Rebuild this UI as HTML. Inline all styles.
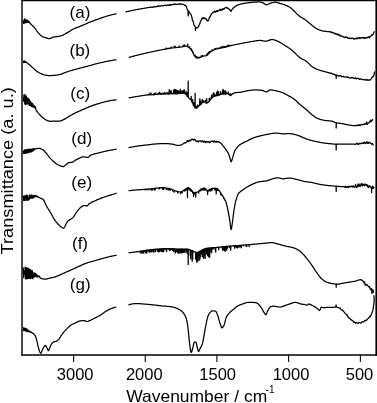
<!DOCTYPE html>
<html><head><meta charset="utf-8"><style>
html,body{margin:0;padding:0;background:#fff;}
svg{display:block;}
</style></head><body>
<svg width="377" height="403" viewBox="0 0 377 403">
<rect width="377" height="403" fill="#fff"/>
<g fill="none" stroke="#000" stroke-width="1.25" stroke-linejoin="round">
<path d="M23.3,20.9 L23.6,23.4 L23.9,20.0 L24.2,23.1 L24.5,19.0 L24.8,23.0 L25.1,19.0 L25.4,21.3 L25.7,20.7 L26.0,22.6 L26.3,20.1 L26.6,22.5 L26.9,20.0 L27.2,22.3 L27.5,20.4 L27.8,22.2 L28.1,20.8 L28.4,22.4 L28.7,21.0 L29.0,22.5 L29.3,21.9 L30.0,23.3 L30.5,23.8 L31.0,24.3 L31.5,24.8 L32.0,25.2 L32.5,25.7 L33.0,26.2 L33.5,26.7 L34.0,27.2 L34.5,27.8 L35.0,28.4 L35.5,29.0 L36.0,29.7 L36.5,30.5 L37.0,31.2 L37.5,31.9 L38.0,32.5 L38.5,33.1 L39.0,33.6 L39.5,34.1 L40.0,34.7 L40.5,35.1 L41.0,35.6 L41.5,36.0 L42.0,36.3 L42.5,36.6 L43.0,36.8 L43.5,37.0 L44.0,37.2 L44.5,37.3 L45.0,37.5 L45.5,37.6 L46.0,37.8 L46.5,37.9 L47.0,38.1 L47.5,38.3 L48.0,38.5 L48.5,38.6 L49.0,38.7 L49.5,38.7 L50.0,38.6 L50.5,38.4 L51.0,38.1 L51.5,37.8 L52.0,37.6 L52.5,37.3 L53.0,37.1 L53.5,37.0 L54.0,37.0 L54.5,36.9 L55.0,36.8 L55.5,36.8 L56.0,36.7 L56.5,36.7 L57.0,36.6 L57.5,36.5 L58.0,36.5 L58.5,36.4 L59.0,36.3 L59.5,36.2 L60.0,36.1 L60.5,36.0 L61.0,35.8 L61.5,35.7 L62.0,35.5 L62.5,35.3 L63.0,35.1 L63.5,34.8 L64.0,34.5 L64.5,34.3 L65.0,34.0 L65.5,33.7 L66.0,33.4 L66.5,33.1 L67.0,32.9 L67.5,32.6 L68.0,32.3 L68.5,31.9 L69.0,31.6 L69.5,31.3 L70.0,31.0 L70.5,30.6 L71.0,30.3 L71.5,30.0 L72.0,29.7 L72.5,29.5 L73.0,29.2 L73.5,29.0 L74.0,28.7 L74.5,28.5 L75.0,28.3 L75.5,28.1 L76.0,27.9 L76.5,27.7 L77.0,27.5 L77.5,27.3 L78.0,27.2 L78.5,27.0 L79.0,26.8 L79.5,26.6 L80.0,26.4 L80.5,26.2 L81.0,26.0 L81.5,25.8 L82.0,25.6 L82.5,25.4 L83.0,25.1 L83.5,24.9 L84.0,24.7 L84.5,24.5 L85.0,24.2 L85.5,24.0 L86.0,23.8 L86.5,23.6 L87.0,23.3 L87.5,23.1 L88.0,22.9 L88.5,22.7 L89.0,22.5 L89.5,22.3 L90.0,22.1 L90.5,21.9 L91.0,21.7 L91.5,21.5 L92.0,21.3 L92.5,21.1 L93.0,21.0 L93.5,20.8 L94.0,20.6 L94.5,20.4 L95.0,20.2 L95.5,20.1 L96.0,19.9 L96.5,19.7 L97.0,19.5 L97.5,19.3 L98.0,19.2 L98.5,19.0 L99.0,18.8 L99.5,18.6 L100.0,18.5 L100.5,18.3 L101.0,18.1 L101.5,17.9 L102.0,17.7 L102.5,17.6 L103.0,17.4 L103.5,17.2 L104.0,17.0 L104.5,16.8 L105.0,16.7 L105.5,16.5 L106.0,16.3 L106.5,16.2 L107.0,16.0 L107.5,15.9 L108.0,15.8 L108.5,15.6 L109.0,15.5 L109.5,15.4 L110.0,15.2 L110.5,15.1 L111.0,15.0 L111.5,14.9 L112.0,14.7 L112.5,14.6 L113.0,14.5 L113.5,14.4 L114.0,14.3 L114.5,14.2 L115.0,14.1 L115.5,14.0 L116.0,13.9 L116.5,13.8 L116.6,13.8"/>
<path d="M125.4,12.0 L125.9,11.9 L126.4,11.8 L126.9,11.7 L127.4,11.5 L127.9,11.4 L128.4,11.3 L128.9,11.2 L129.4,11.1 L129.9,11.0 L130.4,10.9 L130.9,10.8 L131.4,10.7 L131.9,10.5 L132.4,10.4 L132.9,10.3 L133.4,10.2 L133.9,10.1 L134.4,10.0 L134.9,9.9 L135.4,9.8 L135.9,9.7 L136.4,9.6 L136.9,9.5 L137.4,9.4 L137.9,9.3 L138.4,9.3 L138.9,9.2 L139.4,9.1 L139.9,9.0 L140.4,8.9 L140.9,8.8 L141.4,8.7 L141.9,8.6 L142.4,8.5 L142.9,8.5 L143.4,8.4 L143.9,8.3 L144.4,8.2 L144.9,8.1 L145.4,8.0 L145.9,8.0 L146.4,7.9 L146.9,7.8 L147.4,7.7 L147.9,7.7 L148.4,7.6 L148.9,7.5 L149.4,7.4 L149.9,7.4 L150.4,6.9 L150.9,7.1 L151.4,7.3 L151.9,7.3 L152.4,7.4 L152.9,6.9 L153.4,7.2 L153.9,6.9 L154.4,6.5 L154.9,6.7 L155.4,6.9 L155.9,6.8 L156.4,6.5 L156.9,6.5 L157.4,5.9 L157.9,6.0 L158.4,6.5 L158.9,6.1 L159.4,5.8 L159.9,6.1 L160.4,6.1 L160.9,6.1 L161.4,5.7 L161.9,5.7 L162.4,5.7 L162.9,5.9 L163.4,5.6 L163.9,5.5 L164.4,5.5 L164.9,5.0 L165.4,5.0 L165.9,5.5 L166.4,5.7 L166.9,5.3 L167.4,5.1 L167.9,4.8 L168.4,5.1 L168.9,5.4 L169.4,5.2 L169.9,4.9 L170.4,5.1 L170.9,4.5 L171.4,4.7 L171.9,5.0 L172.4,4.6 L172.9,4.4 L173.4,4.2 L173.9,4.4 L174.4,4.7 L174.9,3.8 L175.4,4.4 L175.9,4.4 L176.4,4.5 L176.9,4.3 L177.4,4.4 L177.9,4.1 L178.4,4.2 L178.9,4.0 L179.4,3.7 L179.9,4.5 L180.4,4.2 L180.9,3.9 L181.4,4.2 L181.9,4.3 L182.4,4.2 L182.9,4.2 L183.4,4.5 L183.9,4.8 L184.4,5.3 L184.9,5.5 L185.4,5.2 L185.9,6.2 L186.4,6.9 L186.9,8.6 L187.4,10.0 L187.9,10.7 L188.3,15.9 L188.4,10.7 L188.4,11.5 L188.9,12.1 L189.4,11.6 L189.9,13.5 L190.4,14.0 L190.9,14.1 L191.4,15.5 L191.9,17.2 L192.4,20.3 L192.9,20.8 L193.4,22.2 L193.9,24.9 L194.4,25.8 L194.9,26.3 L195.4,27.0 L195.5,30.5 L195.6,27.7 L195.9,28.1 L196.4,27.6 L196.9,27.8 L197.4,27.9 L197.9,27.3 L198.4,26.8 L198.9,25.6 L199.4,24.5 L199.9,23.6 L200.4,21.7 L200.9,20.9 L201.4,19.8 L201.9,18.6 L202.4,18.0 L202.9,18.8 L203.4,18.0 L203.9,17.5 L204.4,18.2 L204.9,18.9 L205.4,18.4 L205.9,18.9 L206.4,19.5 L206.9,20.6 L207.4,20.1 L207.9,21.0 L208.4,20.5 L208.9,19.2 L209.4,17.4 L209.9,17.1 L210.4,16.0 L210.9,14.9 L211.4,13.8 L211.9,13.8 L212.4,12.9 L212.9,12.7 L213.4,12.0 L213.9,12.2 L214.4,11.2 L214.9,11.4 L215.4,12.1 L215.9,11.8 L216.4,10.9 L216.9,11.5 L217.4,10.6 L217.9,11.3 L218.4,10.9 L218.9,10.3 L219.4,9.9 L219.9,9.5 L220.4,10.5 L220.9,9.2 L221.4,10.1 L221.9,10.2 L222.4,9.4 L222.9,8.6 L223.4,9.3 L223.9,9.2 L224.4,8.5 L224.9,8.1 L225.4,7.7 L225.9,7.6 L226.4,7.4 L226.9,8.2 L227.4,8.1 L227.9,8.0 L228.4,8.2 L228.9,9.3 L229.4,9.3 L229.9,10.2 L230.4,10.4 L230.9,11.3 L231.4,11.1 L231.9,9.3 L232.4,9.2 L232.9,8.5 L233.4,7.9 L233.9,7.5 L234.4,7.1 L234.9,6.7 L235.4,6.3 L235.9,5.9 L236.4,5.6 L236.9,5.4 L237.4,5.2 L237.9,5.0 L238.4,4.8 L238.9,4.6 L239.4,4.4 L239.9,4.3 L240.4,4.1 L240.9,4.0 L241.4,3.9 L241.9,3.8 L242.4,3.7 L242.9,3.5 L243.4,3.5 L243.9,3.4 L244.4,3.3 L244.9,3.2 L245.4,3.1 L245.9,3.0 L246.4,3.0 L246.9,2.9 L247.4,2.8 L247.9,2.8 L248.4,2.7 L248.9,2.7 L249.4,2.6 L249.9,2.6 L250.4,2.5 L250.9,2.5 L251.4,2.4 L251.9,2.4 L252.4,2.3 L252.9,2.3 L253.4,2.2 L253.9,2.2 L254.4,2.2 L254.9,2.1 L255.4,2.1 L255.9,2.0 L256.4,2.0 L256.9,2.0 L257.4,2.0 L257.9,1.9 L258.4,1.9 L258.9,1.9 L259.4,1.9 L259.9,1.9 L260.4,2.0 L260.9,2.1 L261.4,2.3 L261.9,2.5 L262.4,2.7 L262.9,2.9 L263.4,3.1 L263.9,3.4 L264.4,3.7 L264.9,4.1 L265.4,4.5 L265.9,4.8 L266.4,4.8 L266.9,4.7 L267.4,4.5 L267.9,4.3 L268.4,4.0 L268.9,3.8 L269.4,3.5 L269.9,3.3 L270.4,3.1 L270.9,3.0 L271.4,2.9 L271.9,2.8 L272.4,2.6 L272.9,2.5 L273.4,2.4 L273.9,2.3 L274.4,2.3 L274.9,2.2 L275.4,2.2 L275.9,2.2 L276.4,2.3 L276.9,2.4 L277.4,2.6 L277.9,2.7 L278.4,2.9 L278.9,3.1 L279.4,3.2 L279.9,3.4 L280.4,3.5 L280.9,3.6 L281.4,3.8 L281.9,3.9 L282.4,4.0 L282.9,4.2 L283.4,4.3 L283.9,4.5 L284.4,4.7 L284.9,4.9 L285.4,5.0 L285.9,5.3 L286.4,5.5 L286.9,5.7 L287.4,5.9 L287.9,6.2 L288.4,6.5 L288.9,6.7 L289.4,7.0 L289.9,7.4 L290.4,7.7 L290.9,8.1 L291.4,8.5 L291.9,8.9 L292.4,9.4 L292.9,9.8 L293.4,10.3 L293.9,10.8 L294.4,11.3 L294.9,11.8 L295.4,12.4 L295.9,12.9 L296.4,13.4 L296.9,13.9 L297.4,14.4 L297.9,14.8 L298.4,15.3 L298.9,15.7 L299.4,16.1 L299.9,16.5 L300.4,16.9 L300.9,17.2 L301.4,17.5 L301.9,17.7 L302.4,18.0 L302.9,18.3 L303.4,18.6 L303.9,18.9 L304.4,19.2 L304.9,19.6 L305.4,20.0 L305.9,20.3 L306.4,20.7 L306.9,21.1 L307.4,21.5 L307.9,21.9 L308.4,22.3 L308.9,22.7 L309.4,23.2 L309.9,23.6 L310.4,24.0 L310.9,24.4 L311.4,24.8 L311.9,25.2 L312.4,25.7 L312.9,26.1 L313.4,26.5 L313.9,26.9 L314.4,27.2 L314.9,27.6 L315.4,27.9 L315.9,28.2 L316.4,28.5 L316.9,28.8 L317.4,29.1 L317.9,29.3 L318.4,29.5 L318.9,29.8 L319.4,30.0 L319.9,30.1 L320.4,30.3 L320.9,30.5 L321.4,30.6 L321.9,30.8 L322.4,30.9 L322.9,31.0 L323.4,31.1 L323.9,31.2 L324.4,31.2 L324.9,31.3 L325.4,31.3 L325.9,31.4 L326.4,31.4 L326.9,31.5 L327.4,31.5 L327.9,31.6 L328.4,31.6 L328.9,31.7 L329.4,31.8 L329.9,31.9 L330.4,31.7 L330.9,31.9 L331.4,32.8 L331.9,32.7 L332.4,32.3 L332.9,32.3 L333.4,33.0 L333.9,33.3 L334.4,33.6 L334.9,33.2 L335.4,34.0 L335.9,33.9 L336.4,33.9 L336.9,34.7 L337.4,34.0 L337.9,34.8 L338.4,34.3 L338.9,34.6 L339.4,35.6 L339.9,35.0 L340.4,35.8 L340.9,35.9 L341.4,36.3 L341.9,36.0 L342.4,36.2 L342.9,36.3 L343.4,37.1 L343.9,37.0 L344.4,37.5 L344.9,37.6 L345.4,36.9 L345.9,37.5 L346.4,37.2 L346.9,37.2 L347.4,37.4 L347.9,38.3 L348.4,38.4 L348.9,38.5 L349.4,38.0 L349.9,38.4 L350.4,38.6 L350.9,38.2 L351.4,38.5 L351.9,38.1 L352.4,38.0 L352.9,38.3 L353.4,39.0 L353.9,38.7 L354.4,39.1 L354.9,38.6 L355.4,38.3 L355.9,38.9 L356.4,38.9 L356.9,37.9 L357.4,38.6 L357.9,37.9 L358.4,37.8 L358.9,38.6 L359.4,37.6 L359.9,37.8 L360.4,38.5 L360.9,37.9 L361.4,37.5 L361.9,37.5 L362.4,37.6 L362.9,38.1 L363.4,37.4 L363.9,38.3 L364.4,37.7 L364.9,38.4 L365.4,38.3 L365.9,37.6 L366.4,37.5 L366.9,37.8 L367.4,37.3 L367.9,37.8 L368.4,37.0 L368.9,36.7 L369.4,37.6 L369.9,36.5 L370.4,36.6 L370.9,36.1 L371.4,35.5 L371.9,34.7 L372.4,35.1 L372.9,34.5 L373.4,33.9 L373.9,32.3 L374.4,31.7 L374.7,31.6"/>
<path d="M23.3,60.8 L23.6,62.5 L23.9,60.9 L24.2,62.5 L24.5,61.0 L24.8,62.4 L25.1,61.5 L25.4,62.3 L25.7,61.6 L26.2,62.2 L26.7,62.5 L27.2,62.9 L27.7,63.3 L28.2,63.7 L28.7,64.2 L29.2,64.6 L29.7,65.0 L30.2,65.5 L30.7,65.9 L31.2,66.3 L31.7,66.8 L32.2,67.2 L32.7,67.7 L33.2,68.1 L33.7,68.6 L34.2,69.0 L34.7,69.5 L35.2,70.0 L35.7,70.4 L36.2,70.8 L36.7,71.2 L37.2,71.6 L37.7,71.9 L38.2,72.2 L38.7,72.5 L39.2,72.8 L39.7,73.0 L40.2,73.3 L40.7,73.5 L41.2,73.7 L41.7,73.9 L42.2,74.1 L42.7,74.3 L43.2,74.5 L43.7,74.7 L44.2,74.9 L44.7,75.0 L45.2,75.1 L45.7,75.2 L46.2,75.3 L46.7,75.4 L47.2,75.4 L47.7,75.5 L48.2,75.6 L48.7,75.6 L49.2,75.6 L49.7,75.6 L50.2,75.6 L50.7,75.6 L51.2,75.5 L51.7,75.5 L52.2,75.5 L52.7,75.4 L53.2,75.4 L53.7,75.4 L54.2,75.3 L54.7,75.3 L55.2,75.2 L55.7,75.2 L56.2,75.1 L56.7,75.1 L57.2,75.0 L57.7,74.9 L58.2,74.8 L58.7,74.7 L59.2,74.6 L59.7,74.5 L60.2,74.4 L60.7,74.3 L61.2,74.1 L61.7,73.9 L62.2,73.8 L62.7,73.6 L63.2,73.4 L63.7,73.2 L64.2,73.0 L64.7,72.7 L65.2,72.5 L65.7,72.4 L66.2,72.2 L66.7,72.0 L67.2,71.8 L67.7,71.7 L68.2,71.5 L68.7,71.3 L69.2,71.2 L69.7,71.0 L70.2,70.8 L70.7,70.7 L71.2,70.5 L71.7,70.4 L72.2,70.2 L72.7,70.1 L73.2,69.9 L73.7,69.8 L74.2,69.7 L74.7,69.5 L75.2,69.4 L75.7,69.3 L76.2,69.1 L76.7,69.0 L77.2,68.9 L77.7,68.7 L78.2,68.6 L78.7,68.5 L79.2,68.4 L79.7,68.2 L80.2,68.1 L80.7,68.0 L81.2,67.8 L81.7,67.7 L82.2,67.6 L82.7,67.5 L83.2,67.3 L83.7,67.2 L84.2,67.1 L84.7,66.9 L85.2,66.8 L85.7,66.7 L86.2,66.5 L86.7,66.4 L87.2,66.3 L87.7,66.1 L88.2,66.0 L88.7,65.9 L89.2,65.7 L89.7,65.6 L90.2,65.5 L90.7,65.3 L91.2,65.2 L91.7,65.0 L92.2,64.9 L92.7,64.8 L93.2,64.6 L93.7,64.5 L94.2,64.3 L94.7,64.2 L95.2,64.0 L95.7,63.9 L96.2,63.8 L96.7,63.7 L97.2,63.5 L97.7,63.4 L98.2,63.3 L98.7,63.2 L99.2,63.0 L99.7,62.9 L100.2,62.8 L100.7,62.7 L101.2,62.6 L101.7,62.5 L102.2,62.4 L102.7,62.3 L103.2,62.2 L103.7,62.0 L104.2,61.9 L104.7,61.8 L105.2,61.7 L105.7,61.6 L106.2,61.5 L106.7,61.4 L107.2,61.3 L107.7,61.2 L108.2,61.1 L108.7,61.0 L109.2,60.9 L109.7,60.8 L110.2,60.7 L110.7,60.7 L111.2,60.6 L111.7,60.5 L112.2,60.4 L112.7,60.3 L113.2,60.2 L113.7,60.1 L114.2,60.0 L114.7,59.9 L115.2,59.8 L115.7,59.8 L116.2,59.7 L116.6,59.6"/>
<path d="M128.6,57.5 L129.1,57.4 L129.6,57.2 L130.1,57.1 L130.6,56.9 L131.1,56.8 L131.6,56.7 L132.1,56.5 L132.6,56.4 L133.1,56.3 L133.6,56.1 L134.1,56.0 L134.6,55.9 L135.1,55.7 L135.6,55.6 L136.1,55.5 L136.6,55.4 L137.1,55.2 L137.6,55.1 L138.1,55.0 L138.6,54.9 L139.1,54.7 L139.6,54.6 L140.1,54.5 L140.6,54.4 L141.1,54.3 L141.6,54.1 L142.1,54.0 L142.6,53.9 L143.1,53.8 L143.6,53.7 L144.1,53.5 L144.6,53.4 L145.1,53.3 L145.6,53.2 L146.1,53.1 L146.6,53.0 L147.1,52.9 L147.6,52.7 L148.1,52.6 L148.6,52.5 L149.1,52.4 L149.6,52.3 L150.1,52.2 L150.6,52.1 L151.1,52.0 L151.6,51.9 L152.1,51.8 L152.6,51.7 L153.1,51.6 L153.6,51.5 L154.1,51.3 L154.6,51.2 L155.1,51.1 L155.6,51.0 L156.1,50.9 L156.6,50.8 L157.1,50.7 L157.6,50.6 L158.1,50.5 L158.6,50.4 L159.1,50.3 L159.6,50.2 L160.1,50.1 L160.6,50.0 L161.1,49.9 L161.6,49.8 L162.1,49.7 L162.6,49.6 L163.1,49.5 L163.6,49.4 L164.1,49.4 L164.6,49.3 L165.1,49.2 L165.6,49.1 L165.7,48.7 L165.8,49.1 L166.1,49.0 L166.2,48.1 L166.3,49.0 L166.6,48.9 L166.7,48.1 L166.8,48.9 L167.1,48.8 L167.6,48.7 L168.1,48.6 L168.6,48.5 L168.7,48.2 L168.8,48.5 L169.1,48.5 L169.2,48.0 L169.3,48.5 L169.6,48.4 L170.1,48.3 L170.6,48.2 L171.1,48.1 L171.2,46.8 L171.3,48.1 L171.6,48.1 L172.1,48.0 L172.6,47.9 L173.1,47.8 L173.6,47.8 L174.1,47.7 L174.2,46.2 L174.3,47.7 L174.6,47.7 L175.1,47.6 L175.2,46.4 L175.3,47.6 L175.6,47.6 L176.1,47.5 L176.6,47.5 L177.1,47.4 L177.6,47.4 L178.1,47.3 L178.6,47.3 L179.1,47.2 L179.2,45.8 L179.3,47.2 L179.6,47.1 L180.1,47.1 L180.6,47.0 L181.1,47.0 L181.6,46.9 L182.1,46.8 L182.6,46.7 L182.7,46.1 L182.8,46.7 L183.1,46.6 L183.6,46.5 L183.7,45.1 L183.8,46.5 L184.1,46.4 L184.2,45.0 L184.3,46.4 L184.6,46.3 L184.7,44.8 L184.8,46.3 L185.1,46.2 L185.6,46.1 L186.1,46.1 L186.6,46.2 L187.1,46.4 L187.6,46.6 L187.7,46.0 L187.8,44.0 L187.9,46.7 L187.8,46.6 L188.1,46.9 L188.6,47.3 L189.1,47.7 L189.6,48.1 L189.7,46.7 L189.8,48.1 L190.1,48.6 L190.6,49.1 L191.1,49.8 L191.2,48.5 L191.3,49.8 L191.6,50.5 L191.7,49.3 L191.8,50.5 L192.1,51.3 L192.2,50.6 L192.3,51.3 L192.6,52.1 L193.1,53.1 L193.2,52.1 L193.3,53.1 L193.6,54.3 L194.1,55.3 L194.2,54.7 L194.3,55.3 L194.6,56.0 L195.1,56.6 L195.2,55.4 L195.3,56.6 L195.6,57.2 L195.7,56.4 L195.8,57.2 L196.1,57.7 L196.2,56.5 L196.3,57.7 L196.6,58.0 L196.7,56.4 L196.8,58.0 L197.1,58.1 L197.2,56.8 L197.3,58.1 L197.6,58.1 L197.7,57.4 L197.8,58.1 L198.1,58.0 L198.6,57.9 L198.7,57.3 L198.8,57.9 L199.1,57.7 L199.6,57.6 L199.7,57.2 L199.8,57.6 L200.1,57.4 L200.6,57.2 L200.7,56.8 L200.8,57.2 L201.1,56.9 L201.2,55.8 L201.3,56.9 L201.6,56.7 L202.1,56.4 L202.2,55.7 L202.3,56.4 L202.6,56.2 L202.7,55.3 L202.8,56.2 L203.1,56.1 L203.6,56.0 L204.1,56.0 L204.6,55.9 L205.1,55.9 L205.6,55.8 L206.1,55.7 L206.6,55.5 L206.7,54.3 L206.8,55.5 L207.1,55.1 L207.2,54.7 L207.3,55.1 L207.6,54.6 L207.7,53.1 L207.8,54.6 L208.1,54.0 L208.2,52.9 L208.3,54.0 L208.6,53.5 L208.7,52.5 L208.8,53.5 L209.1,53.1 L209.2,51.5 L209.3,53.1 L209.6,52.6 L209.7,51.5 L209.8,52.6 L210.1,52.2 L210.2,51.8 L210.3,52.2 L210.6,51.7 L211.1,51.4 L211.2,51.0 L211.3,51.4 L211.6,51.1 L211.7,50.6 L211.8,51.1 L212.1,50.8 L212.2,49.7 L212.3,50.8 L212.6,50.5 L213.1,50.3 L213.6,50.0 L214.1,49.8 L214.6,49.6 L214.7,48.7 L214.8,49.6 L215.1,49.4 L215.2,48.3 L215.3,49.4 L215.6,49.2 L216.1,49.1 L216.6,49.0 L217.1,48.8 L217.2,48.0 L217.3,48.8 L217.6,48.7 L218.1,48.6 L218.2,48.3 L218.3,48.6 L218.6,48.5 L218.7,48.1 L218.8,48.5 L219.1,48.4 L219.6,48.3 L219.7,47.9 L219.8,48.3 L220.1,48.2 L220.2,47.6 L220.3,48.2 L220.6,48.1 L220.7,47.2 L220.8,48.1 L221.1,48.0 L221.6,47.9 L221.7,46.8 L221.8,47.9 L222.1,47.8 L222.2,46.3 L222.3,47.8 L222.6,47.7 L223.1,47.6 L223.6,47.5 L223.7,46.5 L223.8,47.5 L224.1,47.4 L224.6,47.3 L224.7,46.5 L224.8,47.3 L225.1,47.2 L225.6,47.1 L225.7,46.6 L225.8,47.1 L226.1,47.0 L226.6,46.8 L226.7,45.9 L226.8,46.8 L227.1,46.7 L227.6,46.6 L228.1,46.4 L228.2,44.9 L228.3,46.4 L228.6,46.3 L228.7,45.9 L228.8,46.3 L229.1,46.1 L229.6,46.0 L229.7,45.3 L229.8,46.0 L230.1,45.8 L230.6,45.7 L231.1,45.6 L231.6,45.4 L232.1,45.3 L232.6,45.2 L233.1,45.1 L233.6,45.0 L234.1,44.9 L234.6,44.8 L235.1,44.7 L235.6,44.6 L236.1,44.5 L236.6,44.4 L237.1,44.3 L237.6,44.2 L238.1,44.1 L238.6,44.0 L239.1,43.9 L239.6,43.8 L240.1,43.7 L240.6,43.6 L241.1,43.5 L241.6,43.4 L242.1,43.3 L242.6,43.2 L243.1,43.1 L243.6,43.0 L244.1,42.9 L244.6,42.8 L245.1,42.7 L245.6,42.6 L246.1,42.5 L246.6,42.4 L247.1,42.3 L247.6,42.3 L248.1,42.2 L248.6,42.1 L249.1,42.0 L249.6,41.9 L250.1,41.8 L250.6,41.7 L251.1,41.6 L251.6,41.5 L252.1,41.4 L252.6,41.4 L253.1,41.3 L253.6,41.2 L254.1,41.1 L254.6,41.0 L255.1,41.0 L255.6,40.9 L256.1,40.8 L256.6,40.7 L257.1,40.6 L257.6,40.6 L258.1,40.5 L258.6,40.5 L259.1,40.4 L259.6,40.4 L260.1,40.4 L260.6,40.4 L261.1,40.5 L261.6,40.5 L262.1,40.6 L262.6,40.7 L263.1,40.9 L263.6,41.0 L264.1,41.1 L264.6,41.1 L265.1,41.2 L265.6,41.2 L266.1,41.2 L266.6,41.1 L267.1,41.0 L267.6,40.8 L268.1,40.6 L268.6,40.4 L269.1,40.3 L269.6,40.1 L270.1,39.9 L270.6,39.7 L271.1,39.6 L271.6,39.5 L272.1,39.5 L272.6,39.5 L273.1,39.6 L273.6,39.7 L274.1,39.8 L274.6,40.0 L275.1,40.1 L275.6,40.3 L276.1,40.5 L276.6,40.7 L277.1,41.0 L277.6,41.2 L278.1,41.4 L278.6,41.6 L279.1,41.8 L279.6,42.1 L280.1,42.4 L280.6,42.7 L281.1,43.0 L281.6,43.3 L282.1,43.6 L282.6,44.0 L283.1,44.3 L283.6,44.6 L284.1,45.0 L284.6,45.3 L285.1,45.6 L285.6,45.9 L286.1,46.2 L286.6,46.5 L287.1,46.8 L287.6,47.1 L288.1,47.5 L288.6,47.8 L289.1,48.1 L289.6,48.5 L290.1,48.8 L290.6,49.2 L291.1,49.6 L291.6,50.0 L292.1,50.5 L292.6,50.9 L293.1,51.3 L293.6,51.8 L294.1,52.3 L294.6,52.7 L295.1,53.2 L295.6,53.6 L296.1,54.1 L296.6,54.6 L297.1,55.1 L297.6,55.6 L298.1,56.1 L298.6,56.5 L299.1,57.0 L299.6,57.4 L300.1,57.8 L300.6,58.1 L301.1,58.4 L301.6,58.7 L302.1,59.0 L302.6,59.3 L303.1,59.5 L303.6,59.7 L304.1,60.0 L304.6,60.2 L305.1,60.5 L305.6,60.8 L306.1,61.1 L306.6,61.5 L307.1,61.9 L307.6,62.4 L308.1,62.9 L308.6,63.4 L309.1,63.9 L309.6,64.4 L310.1,65.0 L310.6,65.4 L311.1,65.9 L311.6,66.3 L312.1,66.6 L312.6,67.0 L313.1,67.3 L313.6,67.6 L314.1,67.8 L314.6,68.1 L315.1,68.4 L315.6,68.6 L316.1,68.8 L316.6,69.1 L317.1,69.3 L317.6,69.5 L318.1,69.7 L318.6,69.8 L319.1,70.0 L319.6,70.2 L320.1,70.3 L320.6,70.5 L321.1,70.6 L321.6,70.8 L322.1,70.9 L322.6,71.0 L323.1,71.2 L323.6,71.3 L324.1,71.5 L324.6,71.6 L325.1,71.7 L325.6,71.9 L326.1,72.0 L326.6,72.1 L327.1,72.3 L327.6,72.4 L328.1,72.5 L328.6,72.7 L329.1,72.8 L329.6,72.9 L330.1,73.4 L330.6,73.4 L331.1,72.9 L331.6,73.5 L332.1,73.6 L332.6,73.9 L333.1,73.9 L333.6,74.4 L334.1,74.2 L334.6,74.6 L335.1,74.8 L335.6,75.5 L336.1,74.9 L336.2,78.5 L336.3,75.3 L336.6,75.6 L337.1,75.2 L337.6,75.7 L338.1,75.6 L338.6,75.8 L339.1,76.1 L339.6,75.9 L340.1,75.7 L340.6,75.8 L341.1,75.8 L341.6,76.6 L342.1,76.5 L342.6,76.8 L343.1,76.7 L343.6,76.2 L344.1,76.8 L344.6,77.0 L345.1,77.0 L345.6,76.9 L346.1,76.9 L346.6,77.0 L347.1,77.4 L347.6,77.0 L348.1,77.3 L348.6,77.4 L349.1,77.9 L349.6,77.8 L350.1,78.0 L350.6,78.0 L351.1,77.6 L351.6,77.6 L352.1,77.9 L352.6,77.7 L353.1,77.9 L353.6,78.2 L354.1,78.5 L354.6,78.3 L355.1,78.5 L355.6,78.0 L356.1,78.3 L356.6,78.9 L357.1,78.2 L357.6,78.5 L358.1,78.3 L358.6,78.4 L359.1,79.2 L359.6,79.4 L360.1,79.2 L360.6,78.8 L361.1,79.1 L361.6,79.1 L362.1,79.6 L362.6,79.7 L363.1,79.5 L363.6,79.7 L364.1,79.4 L364.6,79.8 L365.1,80.2 L365.6,80.1 L366.1,79.5 L366.6,79.9 L367.1,80.1 L367.6,79.7 L368.1,80.3 L368.6,80.0 L369.1,80.2 L369.6,79.9 L370.1,80.2 L370.6,79.6 L371.1,78.9 L371.6,77.9 L372.1,77.5 L372.6,76.7 L373.1,76.7 L373.6,76.3 L374.1,74.5 L374.6,71.9 L374.7,71.3"/>
<path d="M23.3,98.0 L23.6,101.2 L23.9,94.9 L24.2,99.9 L24.5,94.9 L24.8,103.9 L25.1,94.7 L25.4,104.5 L25.7,95.9 L26.0,103.8 L26.3,96.1 L26.6,103.8 L26.9,97.3 L27.2,103.9 L27.5,98.2 L27.8,103.9 L28.1,100.6 L28.4,101.7 L28.7,98.5 L29.0,104.6 L29.3,99.7 L29.6,105.4 L29.9,100.7 L30.2,104.3 L30.5,101.7 L30.8,105.6 L31.1,102.4 L31.4,106.3 L31.7,103.0 L32.0,106.5 L32.3,103.4 L32.6,106.8 L32.9,104.0 L33.2,106.9 L33.5,105.6 L33.8,107.2 L34.1,106.0 L34.4,107.6 L34.7,105.9 L35.0,107.9 L35.3,106.9 L36.0,110.0 L36.5,110.7 L37.0,111.4 L37.5,112.1 L38.0,112.8 L38.5,113.4 L39.0,113.9 L39.5,114.5 L40.0,115.0 L40.5,115.5 L41.0,116.0 L41.5,116.5 L42.0,117.0 L42.5,117.4 L43.0,117.8 L43.5,118.2 L44.0,118.6 L44.5,119.0 L45.0,119.4 L45.5,119.7 L46.0,120.0 L46.5,120.2 L47.0,120.4 L47.5,120.6 L48.0,120.8 L48.5,120.9 L49.0,121.1 L49.5,121.2 L50.0,121.3 L50.5,121.3 L51.0,121.3 L51.5,121.3 L52.0,121.2 L52.5,121.2 L53.0,121.1 L53.5,121.0 L54.0,121.0 L54.5,121.0 L55.0,121.0 L55.5,121.0 L56.0,121.0 L56.5,121.0 L57.0,121.0 L57.5,121.0 L58.0,121.0 L58.5,121.0 L59.0,121.0 L59.5,121.0 L60.0,121.0 L60.5,120.9 L61.0,120.8 L61.5,120.6 L62.0,120.4 L62.5,120.1 L63.0,119.9 L63.5,119.6 L64.0,119.4 L64.5,119.2 L65.0,118.9 L65.5,118.6 L66.0,118.3 L66.5,117.9 L67.0,117.6 L67.5,117.3 L68.0,117.0 L68.5,116.7 L69.0,116.4 L69.5,116.1 L70.0,115.8 L70.5,115.5 L71.0,115.2 L71.5,115.0 L72.0,114.7 L72.5,114.4 L73.0,114.2 L73.5,113.9 L74.0,113.7 L74.5,113.4 L75.0,113.1 L75.5,112.9 L76.0,112.7 L76.5,112.4 L77.0,112.2 L77.5,111.9 L78.0,111.7 L78.5,111.5 L79.0,111.3 L79.5,111.0 L80.0,110.8 L80.5,110.6 L81.0,110.4 L81.5,110.2 L82.0,109.9 L82.5,109.7 L83.0,109.5 L83.5,109.3 L84.0,109.1 L84.5,108.9 L85.0,108.6 L85.5,108.4 L86.0,108.2 L86.5,108.0 L87.0,107.8 L87.5,107.5 L88.0,107.3 L88.5,107.1 L89.0,106.9 L89.5,106.7 L90.0,106.5 L90.5,106.3 L91.0,106.1 L91.5,105.9 L92.0,105.8 L92.5,105.6 L93.0,105.4 L93.5,105.2 L94.0,105.1 L94.5,104.9 L95.0,104.7 L95.5,104.6 L96.0,104.4 L96.5,104.2 L97.0,104.1 L97.5,103.9 L98.0,103.8 L98.5,103.6 L99.0,103.5 L99.5,103.3 L100.0,103.2 L100.5,103.0 L101.0,102.9 L101.5,102.7 L102.0,102.6 L102.5,102.5 L103.0,102.3 L103.5,102.2 L104.0,102.0 L104.5,101.9 L105.0,101.8 L105.5,101.7 L106.0,101.5 L106.5,101.4 L107.0,101.3 L107.5,101.2 L108.0,101.1 L108.5,101.0 L109.0,100.9 L109.5,100.8 L110.0,100.7 L110.5,100.6 L111.0,100.5 L111.5,100.4 L112.0,100.4 L112.5,100.3 L113.0,100.2 L113.5,100.1 L114.0,100.0 L114.5,100.0 L115.0,99.9 L115.5,99.8 L116.0,99.8 L116.5,99.7 L116.6,99.7"/>
<path d="M128.6,97.9 L129.1,97.8 L129.6,97.7 L130.1,97.7 L130.6,97.6 L131.1,97.5 L131.6,97.4 L132.1,97.3 L132.6,97.2 L133.1,97.2 L133.6,97.1 L134.1,97.0 L134.6,96.9 L135.1,96.8 L135.6,96.7 L136.1,96.7 L136.6,96.6 L137.1,96.5 L137.6,96.4 L138.1,96.3 L138.6,96.2 L139.1,96.2 L139.6,96.1 L140.1,96.0 L140.6,95.9 L141.1,95.8 L141.6,95.7 L142.1,95.6 L142.6,95.5 L143.1,95.5 L143.6,95.4 L144.1,95.3 L144.6,95.2 L145.1,95.2 L145.6,95.1 L146.1,95.1 L146.6,95.0 L147.1,95.0 L147.6,94.9 L148.1,95.2 L148.6,94.9 L148.7,94.4 L148.8,94.9 L149.1,94.7 L149.2,94.0 L149.3,94.7 L149.6,94.5 L150.1,94.6 L150.2,92.8 L150.3,94.6 L150.6,95.0 L151.1,94.7 L151.2,93.5 L151.3,94.7 L151.6,94.7 L152.1,94.7 L152.6,94.5 L153.1,94.6 L153.6,94.8 L153.7,93.9 L153.8,94.8 L154.1,94.5 L154.6,94.5 L154.7,93.4 L154.8,94.5 L155.1,94.5 L155.2,93.1 L155.3,94.5 L155.6,94.3 L155.7,92.9 L155.8,94.3 L156.1,94.2 L156.6,94.4 L157.1,94.4 L157.2,93.9 L157.3,94.4 L157.6,94.0 L158.1,94.3 L158.6,94.0 L158.7,93.0 L158.8,94.0 L159.1,94.0 L159.2,92.6 L159.3,94.0 L159.6,93.8 L159.7,92.1 L159.8,93.8 L160.1,94.2 L160.6,94.3 L160.7,93.5 L160.8,94.3 L161.1,94.0 L161.2,93.3 L161.3,94.0 L161.6,93.7 L162.1,94.2 L162.2,93.3 L162.3,94.2 L162.6,94.2 L163.1,94.0 L163.2,93.1 L163.3,94.0 L163.6,93.9 L164.1,93.9 L164.2,93.3 L164.3,93.9 L164.6,94.1 L164.7,92.4 L164.8,94.1 L165.1,94.1 L165.2,93.2 L165.3,94.1 L165.6,94.1 L166.1,93.7 L166.2,93.1 L166.3,93.7 L166.6,93.6 L167.1,93.7 L167.2,92.7 L167.3,93.7 L167.6,94.1 L168.1,94.1 L168.2,93.2 L168.3,94.1 L168.6,94.1 L169.1,94.0 L169.2,89.7 L169.3,94.0 L169.6,93.9 L169.7,90.4 L169.8,93.9 L170.1,93.7 L170.6,93.5 L170.7,91.4 L170.8,93.5 L171.1,93.5 L171.2,90.5 L171.3,93.5 L171.6,93.3 L172.1,93.8 L172.6,93.9 L173.1,93.7 L173.6,93.4 L173.7,89.8 L173.8,93.4 L174.1,93.6 L174.2,90.3 L174.3,93.6 L174.6,93.7 L174.7,89.4 L174.8,93.7 L175.1,93.8 L175.2,92.0 L175.3,93.8 L175.6,93.5 L175.7,89.7 L175.8,93.5 L176.1,93.8 L176.2,90.9 L176.3,93.8 L176.6,93.8 L176.7,90.1 L176.8,93.8 L177.1,93.7 L177.6,93.8 L177.7,90.6 L177.8,93.8 L178.1,93.3 L178.2,91.4 L178.3,93.3 L178.6,93.4 L178.7,91.0 L178.8,93.4 L179.1,93.1 L179.6,93.1 L179.7,91.8 L179.8,93.1 L180.1,93.6 L180.2,89.2 L180.3,93.6 L180.6,93.2 L180.7,90.5 L180.8,93.2 L181.1,93.4 L181.2,91.2 L181.3,93.4 L181.6,93.2 L182.1,93.0 L182.2,90.9 L182.3,93.0 L182.6,93.4 L183.1,93.0 L183.2,91.8 L183.3,93.0 L183.6,93.4 L183.7,90.3 L183.8,93.4 L184.1,93.4 L184.2,89.6 L184.3,93.4 L184.6,93.5 L184.7,91.2 L184.8,93.5 L185.1,93.6 L185.6,93.9 L186.1,94.5 L186.2,91.6 L186.3,94.5 L186.6,94.9 L186.7,92.5 L186.8,94.9 L187.1,96.1 L187.6,96.8 L187.7,92.6 L187.8,96.8 L188.1,97.0 L188.2,81.0 L188.3,97.3 L188.2,94.4 L188.3,97.0 L188.6,97.9 L189.1,98.4 L189.6,98.8 L190.1,98.9 L190.6,99.3 L191.1,100.0 L191.2,96.3 L191.3,100.0 L191.6,101.4 L191.7,100.2 L191.8,101.4 L192.1,102.4 L192.2,101.4 L192.3,102.4 L192.6,103.4 L192.7,99.5 L192.8,103.4 L193.1,104.7 L193.6,105.5 L194.1,106.1 L194.2,102.5 L194.3,106.1 L194.6,106.7 L195.1,108.0 L195.1,93.1 L195.2,107.7 L195.6,108.2 L195.7,106.1 L195.8,108.2 L196.1,108.0 L196.6,108.1 L196.7,106.3 L196.8,108.1 L197.1,107.6 L197.6,107.1 L197.7,104.8 L197.8,107.1 L198.1,106.8 L198.2,105.6 L198.3,106.8 L198.6,106.3 L199.1,105.6 L199.6,105.5 L199.9,98.7 L200.0,105.0 L200.1,104.8 L200.6,104.6 L200.7,101.4 L200.8,104.6 L201.1,104.0 L201.2,102.8 L201.3,104.0 L201.6,103.4 L202.1,102.8 L202.2,99.3 L202.3,102.8 L202.6,102.6 L202.7,101.0 L202.8,102.6 L203.1,102.3 L203.2,100.6 L203.3,102.3 L203.6,101.8 L204.1,101.9 L204.6,102.2 L205.1,102.2 L205.2,100.5 L205.3,102.2 L205.6,102.6 L205.7,100.3 L205.8,102.6 L206.1,103.3 L206.2,101.2 L206.3,103.3 L206.6,103.1 L206.7,98.6 L206.8,103.1 L207.1,102.9 L207.6,102.8 L208.1,102.3 L208.6,102.1 L209.1,101.7 L209.2,98.2 L209.3,101.7 L209.6,100.5 L209.7,98.8 L209.8,100.5 L210.1,100.0 L210.6,99.4 L211.1,98.4 L211.2,96.8 L211.3,98.4 L211.6,98.4 L211.7,94.9 L211.8,98.4 L212.1,97.5 L212.6,97.2 L213.1,96.7 L213.2,93.1 L213.3,96.7 L213.6,96.6 L213.7,92.7 L213.8,96.6 L214.1,96.6 L214.2,93.6 L214.3,96.6 L214.6,96.2 L214.7,94.1 L214.8,96.2 L215.1,96.2 L215.2,94.5 L215.3,96.2 L215.6,95.9 L216.1,95.5 L216.6,95.4 L216.7,92.1 L216.8,95.4 L217.1,95.8 L217.6,95.3 L217.7,91.0 L217.8,95.3 L218.1,95.4 L218.6,95.2 L218.7,91.8 L218.8,95.2 L219.1,94.7 L219.6,95.0 L220.1,94.6 L220.6,94.3 L220.7,91.6 L220.8,94.3 L221.1,94.3 L221.6,93.9 L222.1,94.1 L222.6,94.0 L222.7,89.9 L222.8,94.0 L223.1,93.6 L223.2,89.4 L223.3,93.6 L223.6,94.0 L223.7,90.5 L223.8,94.0 L224.1,94.0 L224.6,93.7 L224.7,91.6 L224.8,93.7 L225.1,94.1 L225.2,90.6 L225.3,94.1 L225.6,94.1 L226.1,93.8 L226.2,92.0 L226.3,93.8 L226.6,93.6 L227.1,93.7 L227.6,93.8 L228.1,94.0 L228.2,91.7 L228.3,94.0 L228.6,94.3 L229.1,94.6 L229.6,95.0 L229.7,93.8 L229.8,95.0 L230.1,95.7 L230.6,95.3 L230.7,93.7 L230.8,95.3 L231.1,95.2 L231.6,94.7 L232.1,94.2 L232.6,93.8 L233.1,93.6 L233.6,93.3 L234.1,93.1 L234.6,92.9 L235.1,92.7 L235.6,92.6 L236.1,92.6 L236.6,92.5 L237.1,92.5 L237.6,92.4 L238.1,92.4 L238.6,92.4 L239.1,92.4 L239.6,92.3 L240.1,92.3 L240.6,92.2 L241.1,92.1 L241.6,92.1 L242.1,92.0 L242.6,91.8 L243.1,91.7 L243.6,91.6 L244.1,91.5 L244.6,91.3 L245.1,91.2 L245.6,91.1 L246.1,91.0 L246.6,90.9 L247.1,90.8 L247.6,90.7 L248.1,90.6 L248.6,90.6 L249.1,90.5 L249.6,90.4 L250.1,90.4 L250.6,90.3 L251.1,90.2 L251.6,90.2 L252.1,90.1 L252.6,90.1 L253.1,90.0 L253.6,90.0 L254.1,89.9 L254.6,89.9 L255.1,89.9 L255.6,89.9 L256.1,89.9 L256.6,89.9 L257.1,89.9 L257.6,89.9 L258.1,90.0 L258.6,90.0 L259.1,90.0 L259.6,90.1 L260.1,90.1 L260.6,90.2 L261.1,90.3 L261.6,90.3 L262.1,90.4 L262.6,90.5 L263.1,90.6 L263.6,90.8 L264.1,91.1 L264.6,91.3 L265.1,91.5 L265.6,91.7 L266.1,91.8 L266.6,91.8 L267.1,91.6 L267.6,91.3 L268.1,91.0 L268.6,90.6 L269.1,90.3 L269.6,90.1 L270.1,89.9 L270.6,89.9 L271.1,89.9 L271.6,90.0 L272.1,90.0 L272.6,90.1 L273.1,90.2 L273.6,90.3 L274.1,90.4 L274.6,90.5 L275.1,90.6 L275.6,90.7 L276.1,90.8 L276.6,90.9 L277.1,91.0 L277.6,91.1 L278.1,91.3 L278.6,91.4 L279.1,91.5 L279.6,91.7 L280.1,91.8 L280.6,92.0 L281.1,92.1 L281.6,92.3 L282.1,92.5 L282.6,92.6 L283.1,92.9 L283.6,93.1 L284.1,93.3 L284.6,93.6 L285.1,93.8 L285.6,94.1 L286.1,94.4 L286.6,94.7 L287.1,95.0 L287.6,95.3 L288.1,95.5 L288.6,95.8 L289.1,96.1 L289.6,96.4 L290.1,96.7 L290.6,96.9 L291.1,97.2 L291.6,97.5 L292.1,97.8 L292.6,98.1 L293.1,98.4 L293.6,98.8 L294.1,99.1 L294.6,99.5 L295.1,99.9 L295.6,100.3 L296.1,100.8 L296.6,101.3 L297.1,101.8 L297.6,102.2 L298.1,102.7 L298.6,103.2 L299.1,103.7 L299.6,104.1 L300.1,104.6 L300.6,105.0 L301.1,105.4 L301.6,105.8 L302.1,106.2 L302.6,106.6 L303.1,107.0 L303.6,107.4 L304.1,107.8 L304.6,108.2 L305.1,108.6 L305.6,109.0 L306.1,109.4 L306.6,109.8 L307.1,110.3 L307.6,110.7 L308.1,111.2 L308.6,111.7 L309.1,112.2 L309.6,112.6 L310.1,113.1 L310.6,113.5 L311.1,114.0 L311.6,114.4 L312.1,114.8 L312.6,115.1 L313.1,115.5 L313.6,115.9 L314.1,116.3 L314.6,116.7 L315.1,117.0 L315.6,117.4 L316.1,117.7 L316.6,118.0 L317.1,118.2 L317.6,118.5 L318.1,118.7 L318.6,118.8 L319.1,119.0 L319.6,119.2 L320.1,119.4 L320.6,119.5 L321.1,119.6 L321.6,119.8 L322.1,119.9 L322.6,120.0 L323.1,120.1 L323.6,120.2 L324.1,120.3 L324.6,120.4 L325.1,120.5 L325.6,120.5 L326.1,120.6 L326.6,120.6 L327.1,120.7 L327.6,120.7 L328.1,120.7 L328.6,120.8 L329.1,120.8 L329.6,120.9 L330.1,120.9 L330.6,121.0 L331.1,121.0 L331.6,121.1 L332.1,121.2 L332.6,121.4 L333.1,121.6 L333.6,121.8 L334.1,122.0 L334.6,122.2 L335.1,122.4 L335.6,122.5 L336.1,122.7 L336.2,128.0 L336.3,122.7 L336.6,122.8 L337.1,122.9 L337.6,123.0 L338.1,123.1 L338.6,123.1 L339.1,123.2 L339.6,123.3 L340.1,123.3 L340.6,123.4 L341.1,123.5 L341.6,123.6 L342.1,123.6 L342.6,123.7 L343.1,123.8 L343.6,123.9 L344.1,124.0 L344.6,124.1 L345.1,124.2 L345.6,124.3 L346.1,124.4 L346.6,124.6 L347.1,124.7 L347.6,124.8 L348.1,124.9 L348.6,125.0 L349.1,125.1 L349.6,125.1 L350.1,125.2 L350.6,125.3 L351.1,125.3 L351.6,125.4 L352.1,125.5 L352.6,125.5 L353.1,125.6 L353.6,125.6 L354.1,125.6 L354.6,125.7 L355.1,125.3 L355.6,125.6 L356.1,125.3 L356.6,125.7 L357.1,125.7 L357.6,125.1 L358.1,125.1 L358.6,125.6 L359.1,124.6 L359.6,125.3 L360.1,125.3 L360.6,125.2 L361.1,124.4 L361.6,124.5 L362.1,124.5 L362.6,124.5 L363.1,124.8 L363.6,124.4 L364.1,123.8 L364.6,124.4 L365.1,123.9 L365.6,123.9 L366.1,124.4 L366.6,122.0 L367.1,124.3 L367.6,123.8 L368.1,123.1 L368.6,123.0 L369.1,122.5 L369.6,121.4 L370.1,122.1 L370.6,120.2 L371.1,121.3 L371.6,121.2 L372.1,120.0 L372.6,119.7 L373.1,120.3"/>
<path d="M23.3,150.4 L23.6,153.4 L23.9,150.8 L24.2,153.3 L24.5,150.0 L24.8,153.4 L25.1,150.0 L25.4,151.7 L25.7,150.0 L26.0,153.2 L26.3,150.8 L26.6,152.8 L26.9,149.5 L27.2,152.8 L27.5,149.4 L27.8,152.7 L28.1,149.5 L28.4,152.6 L28.7,149.3 L29.0,152.2 L29.3,149.1 L29.6,152.1 L29.9,149.4 L30.2,152.1 L30.5,149.8 L30.8,151.1 L31.1,149.3 L31.4,151.8 L31.7,149.0 L32.0,151.6 L32.3,149.7 L32.6,150.7 L32.9,148.6 L33.2,150.9 L33.5,148.6 L33.8,150.4 L34.1,148.9 L34.4,149.6 L35.0,149.1 L35.5,148.9 L36.0,148.8 L36.5,148.7 L37.0,148.6 L37.5,148.5 L38.0,148.4 L38.5,148.3 L39.0,148.3 L39.5,148.3 L40.0,148.4 L40.5,148.6 L41.0,148.8 L41.5,149.0 L42.0,149.2 L42.5,149.5 L43.0,149.8 L43.5,150.2 L44.0,150.7 L44.5,151.2 L45.0,151.8 L45.5,152.4 L46.0,153.0 L46.5,153.6 L47.0,154.2 L47.5,154.8 L48.0,155.5 L48.5,156.2 L49.0,156.8 L49.5,157.5 L50.0,158.1 L50.5,158.6 L51.0,159.1 L51.5,159.6 L52.0,160.1 L52.5,160.6 L53.0,161.1 L53.5,161.5 L54.0,161.9 L54.5,162.3 L55.0,162.7 L55.5,163.1 L56.0,163.5 L56.5,163.8 L57.0,164.2 L57.5,164.5 L58.0,164.8 L58.5,165.0 L59.0,165.2 L59.5,165.5 L60.0,165.7 L60.5,165.9 L61.0,166.1 L61.5,166.3 L62.0,166.4 L62.5,166.5 L63.0,166.6 L63.5,166.6 L64.0,166.3 L64.5,166.0 L65.0,165.5 L65.5,165.1 L66.0,164.7 L66.5,164.2 L67.0,163.7 L67.5,163.3 L68.0,162.9 L68.5,162.6 L69.0,162.6 L69.5,162.5 L70.0,162.5 L70.5,162.4 L71.0,162.4 L71.5,162.4 L72.0,162.3 L72.5,162.2 L73.0,161.9 L73.5,161.6 L74.0,161.2 L74.5,160.8 L75.0,160.5 L75.5,160.1 L76.0,159.8 L76.5,159.6 L77.0,159.3 L77.5,159.1 L78.0,158.8 L78.5,158.6 L79.0,158.4 L79.5,158.1 L80.0,157.8 L80.5,157.6 L81.0,157.3 L81.5,157.2 L82.0,157.0 L82.5,156.9 L83.0,156.9 L83.5,156.9 L84.0,156.9 L84.5,156.9 L85.0,157.0 L85.5,157.0 L86.0,157.1 L86.5,157.3 L87.0,157.4 L87.5,157.5 L88.0,157.4 L88.5,157.1 L89.0,156.6 L89.5,156.0 L90.0,155.6 L90.5,155.3 L91.0,155.0 L91.5,154.8 L92.0,154.7 L92.5,154.5 L93.0,154.3 L93.5,154.2 L94.0,154.1 L94.5,153.9 L95.0,153.8 L95.5,153.7 L96.0,153.6 L96.5,153.5 L97.0,153.4 L97.5,153.2 L98.0,153.1 L98.5,153.0 L99.0,152.8 L99.5,152.7 L100.0,152.6 L100.5,152.5 L101.0,152.3 L101.5,152.2 L102.0,152.1 L102.5,152.0 L103.0,151.8 L103.5,151.7 L104.0,151.6 L104.5,151.5 L105.0,151.4 L105.5,151.3 L106.0,151.1 L106.5,151.0 L107.0,150.9 L107.5,150.8 L108.0,150.7 L108.5,150.6 L109.0,150.5 L109.5,150.4 L110.0,150.3 L110.5,150.2 L111.0,150.1 L111.5,150.1 L112.0,150.0 L112.5,149.9 L113.0,149.8 L113.5,149.7 L114.0,149.6 L114.5,149.5 L115.0,149.4 L115.5,149.4 L116.0,149.3 L116.5,149.2 L116.6,149.2"/>
<path d="M128.6,147.7 L129.1,147.6 L129.6,147.5 L130.1,147.4 L130.6,147.3 L131.1,147.2 L131.6,147.1 L132.1,147.0 L132.6,146.9 L133.1,146.8 L133.6,146.7 L134.1,146.6 L134.6,146.5 L135.1,146.4 L135.6,146.3 L136.1,146.3 L136.6,146.2 L137.1,146.1 L137.6,146.0 L138.1,146.0 L138.6,145.9 L139.1,145.8 L139.6,145.8 L140.1,145.7 L140.6,145.6 L141.1,145.6 L141.6,145.5 L142.1,145.5 L142.6,145.4 L143.1,145.3 L143.6,145.3 L144.1,145.2 L144.6,145.2 L145.1,145.1 L145.6,145.1 L146.1,145.0 L146.6,145.0 L147.1,144.9 L147.6,144.8 L148.1,144.8 L148.6,144.7 L149.1,144.7 L149.6,144.6 L150.1,144.5 L150.6,144.5 L151.1,144.4 L151.6,144.3 L152.1,144.3 L152.6,144.2 L153.1,144.2 L153.6,144.1 L154.1,144.1 L154.6,144.0 L155.1,144.0 L155.6,143.9 L156.1,143.9 L156.6,143.9 L157.1,143.8 L157.6,143.8 L158.1,143.8 L158.6,143.8 L159.1,143.7 L159.6,143.7 L160.1,143.7 L160.6,143.7 L161.1,143.7 L161.6,143.7 L162.1,143.7 L162.6,143.6 L163.1,143.6 L163.6,143.6 L164.1,143.6 L164.6,143.6 L165.1,143.6 L165.6,143.6 L166.1,143.6 L166.6,143.6 L167.1,143.6 L167.6,143.7 L168.1,143.7 L168.6,143.7 L169.1,143.8 L169.6,143.8 L170.1,143.9 L170.6,143.9 L171.1,144.0 L171.6,144.0 L172.1,144.1 L172.6,144.1 L173.1,144.2 L173.6,144.4 L174.1,144.5 L174.6,144.7 L175.1,144.9 L175.6,145.0 L176.1,145.2 L176.6,145.3 L177.1,145.4 L177.6,145.4 L178.1,145.4 L178.6,145.4 L179.1,145.3 L179.6,145.3 L180.1,145.2 L180.6,145.1 L181.1,145.0 L181.6,144.8 L182.1,144.5 L182.6,144.2 L183.1,143.8 L183.6,143.5 L184.1,143.1 L184.6,142.8 L185.1,143.1 L185.6,142.9 L186.1,142.3 L186.6,142.4 L187.1,140.7 L187.6,140.9 L188.1,141.7 L188.6,141.2 L189.1,140.4 L189.6,141.1 L190.1,140.4 L190.6,140.6 L191.1,139.7 L191.6,139.4 L192.1,139.7 L192.6,139.1 L193.1,139.4 L193.6,140.3 L194.1,139.5 L194.6,139.2 L195.1,139.7 L195.6,140.3 L196.1,141.5 L196.6,141.2 L197.1,141.2 L197.6,140.9 L198.1,142.2 L198.6,141.4 L199.1,141.1 L199.6,140.8 L200.1,140.8 L200.6,141.0 L201.1,141.8 L201.6,141.0 L202.1,140.8 L202.6,141.5 L203.1,141.1 L203.6,142.3 L204.1,141.0 L204.6,141.7 L205.1,142.1 L205.6,141.7 L206.1,142.6 L206.6,141.9 L207.1,141.6 L207.6,141.9 L208.1,141.4 L208.6,142.0 L209.1,141.7 L209.6,142.6 L210.1,142.4 L210.6,141.9 L211.1,141.1 L211.6,141.3 L212.1,141.3 L212.6,141.1 L213.1,141.1 L213.6,142.1 L214.1,141.0 L214.6,140.8 L215.1,142.1 L215.6,141.6 L216.1,142.2 L216.6,141.4 L217.1,142.1 L217.6,141.7 L218.1,141.6 L218.6,141.8 L219.1,142.0 L219.6,142.4 L220.1,142.7 L220.6,143.1 L221.1,143.5 L221.6,144.0 L222.1,144.6 L222.6,145.3 L223.1,145.9 L223.6,146.5 L224.1,147.1 L224.6,147.8 L225.1,148.5 L225.6,149.2 L226.1,149.9 L226.6,150.6 L227.1,151.3 L227.6,152.0 L228.1,152.9 L228.6,153.9 L229.1,155.3 L229.6,157.0 L230.1,158.7 L230.6,160.6 L231.1,161.8 L231.6,161.0 L232.1,159.5 L232.6,157.9 L233.1,156.1 L233.6,154.3 L234.1,152.5 L234.6,151.3 L235.1,150.3 L235.6,149.5 L236.1,148.8 L236.6,148.2 L237.1,147.5 L237.6,146.8 L238.1,146.2 L238.6,145.7 L239.1,145.3 L239.6,144.9 L240.1,144.6 L240.6,144.3 L241.1,144.0 L241.6,143.7 L242.1,143.5 L242.6,143.2 L243.1,142.9 L243.6,142.7 L244.1,142.4 L244.6,142.2 L245.1,142.0 L245.6,141.7 L246.1,141.5 L246.6,141.3 L247.1,141.0 L247.6,140.7 L248.1,140.5 L248.6,140.2 L249.1,139.9 L249.6,139.7 L250.1,139.4 L250.6,139.1 L251.1,138.9 L251.6,138.6 L252.1,138.4 L252.6,138.2 L253.1,138.0 L253.6,137.8 L254.1,137.6 L254.6,137.5 L255.1,137.3 L255.6,137.1 L256.1,137.0 L256.6,136.8 L257.1,136.7 L257.6,136.6 L258.1,136.4 L258.6,136.3 L259.1,136.2 L259.6,136.1 L260.1,135.9 L260.6,135.8 L261.1,135.7 L261.6,135.6 L262.1,135.5 L262.6,135.3 L263.1,135.2 L263.6,135.1 L264.1,135.0 L264.6,134.9 L265.1,134.8 L265.6,134.7 L266.1,134.6 L266.6,134.5 L267.1,134.4 L267.6,134.3 L268.1,134.2 L268.6,134.1 L269.1,134.0 L269.6,133.9 L270.1,133.8 L270.6,133.7 L271.1,133.7 L271.6,133.5 L272.1,133.4 L272.6,133.4 L273.1,133.3 L273.6,133.2 L274.1,133.1 L274.6,133.1 L275.1,133.1 L275.6,133.1 L276.1,133.1 L276.6,133.2 L277.1,133.2 L277.6,133.2 L278.1,133.3 L278.6,133.3 L279.1,133.4 L279.6,133.4 L280.1,133.5 L280.6,133.5 L281.1,133.6 L281.6,133.7 L282.1,133.8 L282.6,133.9 L283.1,133.9 L283.6,133.9 L284.1,133.9 L284.6,133.8 L285.1,133.8 L285.6,133.7 L286.1,133.7 L286.6,133.6 L287.1,133.6 L287.6,133.5 L288.1,133.5 L288.6,133.5 L289.1,133.5 L289.6,133.5 L290.1,133.6 L290.6,133.6 L291.1,133.7 L291.6,133.8 L292.1,133.9 L292.6,134.0 L293.1,134.1 L293.6,134.2 L294.1,134.3 L294.6,134.4 L295.1,134.6 L295.6,134.7 L296.1,134.8 L296.6,135.0 L297.1,135.2 L297.6,135.3 L298.1,135.5 L298.6,135.7 L299.1,135.9 L299.6,136.1 L300.1,136.2 L300.6,136.4 L301.1,136.7 L301.6,136.9 L302.1,137.1 L302.6,137.3 L303.1,137.6 L303.6,137.8 L304.1,138.0 L304.6,138.2 L305.1,138.4 L305.6,138.6 L306.1,138.8 L306.6,139.0 L307.1,139.2 L307.6,139.3 L308.1,139.5 L308.6,139.7 L309.1,139.8 L309.6,140.0 L310.1,140.1 L310.6,140.2 L311.1,140.4 L311.6,140.5 L312.1,140.6 L312.6,140.8 L313.1,140.9 L313.6,141.0 L314.1,141.1 L314.6,141.2 L315.1,141.4 L315.6,141.5 L316.1,141.6 L316.6,141.7 L317.1,141.8 L317.6,141.9 L318.1,142.0 L318.6,142.1 L319.1,142.2 L319.6,142.3 L320.1,142.4 L320.6,142.5 L321.1,142.6 L321.6,142.6 L322.1,142.7 L322.6,142.8 L323.1,142.9 L323.6,143.0 L324.1,143.0 L324.6,143.1 L325.1,143.2 L325.6,143.2 L326.1,143.3 L326.6,143.3 L327.1,143.4 L327.6,143.4 L328.1,143.5 L328.6,143.5 L329.1,143.6 L329.6,143.6 L330.1,143.7 L330.6,143.7 L331.1,143.8 L331.6,143.8 L332.1,143.9 L332.6,143.9 L333.1,144.0 L333.6,144.0 L334.1,144.1 L334.6,144.1 L335.1,144.2 L335.6,144.2 L336.1,144.2 L336.2,150.0 L336.3,144.2 L336.6,144.2 L337.1,144.2 L337.6,144.2 L338.1,144.2 L338.6,144.2 L339.1,144.2 L339.6,144.2 L340.1,144.2 L340.6,144.2 L341.1,144.2 L341.6,144.2 L342.1,144.2 L342.6,144.2 L343.1,144.2 L343.6,144.2 L344.1,144.2 L344.6,144.2 L345.1,144.2 L345.6,144.2 L346.1,144.2 L346.6,144.2 L347.1,144.2 L347.6,144.2 L348.1,144.2 L348.6,144.2 L349.1,144.2 L349.6,144.2 L350.1,144.2 L350.6,144.2 L351.1,144.2 L351.6,144.2 L352.1,144.1 L352.6,144.1 L353.1,144.1 L353.6,144.1 L354.1,144.0 L354.6,144.0 L355.1,144.4 L355.6,144.3 L356.1,143.9 L356.6,143.2 L357.1,143.3 L357.6,144.3 L358.1,144.3 L358.6,144.3 L359.1,143.2 L359.6,143.7 L360.1,143.8 L360.6,143.5 L361.1,143.7 L361.6,143.1 L362.1,143.3 L362.6,143.2 L363.1,142.5 L363.6,143.5 L364.1,143.5 L364.6,142.0 L365.1,143.4 L365.6,143.4 L366.1,142.9 L366.6,141.9 L367.1,143.3 L367.6,142.1 L368.1,143.4 L368.6,143.0 L369.1,142.1 L369.6,142.3 L370.1,143.2 L370.6,143.2 L371.1,143.6 L371.6,144.2 L372.1,143.4 L372.6,143.6 L373.1,144.9 L373.5,145.4"/>
<path d="M23.3,196.0 L23.6,200.4 L23.9,196.0 L24.2,199.5 L24.5,195.8 L24.8,200.5 L25.1,196.0 L25.4,200.1 L25.7,195.8 L26.0,198.0 L26.3,195.3 L26.6,200.3 L26.9,195.2 L27.2,198.2 L27.5,195.7 L27.8,200.1 L28.1,197.7 L28.4,200.1 L28.7,197.5 L29.0,199.5 L29.3,195.2 L29.6,199.0 L29.9,195.1 L30.2,197.8 L30.5,196.3 L30.8,198.2 L31.1,195.1 L31.4,197.6 L31.7,194.9 L32.0,198.3 L32.3,195.3 L32.6,197.0 L32.9,195.9 L33.2,198.1 L33.5,196.5 L33.8,196.8 L34.1,195.4 L34.4,197.1 L34.7,195.4 L35.0,196.5 L35.3,195.5 L35.6,196.3 L35.9,195.8 L36.2,196.8 L36.5,196.3 L36.8,196.8 L37.1,196.0 L37.5,196.6 L38.0,196.8 L38.5,197.1 L39.0,197.4 L39.5,197.7 L40.0,198.0 L40.5,198.2 L41.0,198.4 L41.5,198.6 L42.0,198.8 L42.5,199.0 L43.0,199.3 L43.5,199.8 L44.0,200.6 L44.5,201.6 L45.0,202.8 L45.5,203.9 L46.0,205.0 L46.5,206.0 L47.0,206.9 L47.5,207.7 L48.0,208.5 L48.5,209.3 L49.0,210.1 L49.5,210.9 L50.0,211.7 L50.5,212.5 L51.0,213.4 L51.5,214.3 L52.0,215.2 L52.5,216.2 L53.0,217.1 L53.5,218.0 L54.0,218.9 L54.5,219.7 L55.0,220.4 L55.5,221.0 L56.0,221.7 L56.5,222.3 L57.0,222.9 L57.5,223.5 L58.0,224.0 L58.5,224.5 L59.0,225.0 L59.5,225.5 L60.0,226.0 L60.5,226.4 L61.0,226.9 L61.5,227.2 L62.0,227.5 L62.5,227.8 L63.0,228.0 L63.5,228.1 L64.0,227.9 L64.5,227.3 L65.0,226.3 L65.5,225.2 L66.0,224.1 L66.5,223.2 L67.0,222.5 L67.5,221.8 L68.0,221.1 L68.5,220.6 L69.0,220.2 L69.5,219.9 L70.0,219.6 L70.5,219.3 L71.0,219.0 L71.5,218.6 L72.0,218.3 L72.5,217.9 L73.0,217.4 L73.5,216.8 L74.0,216.1 L74.5,215.3 L75.0,214.5 L75.5,213.7 L76.0,213.0 L76.5,212.3 L77.0,211.7 L77.5,211.0 L78.0,210.3 L78.5,209.7 L79.0,209.1 L79.5,208.5 L80.0,208.0 L80.5,207.6 L81.0,207.2 L81.5,206.8 L82.0,206.4 L82.5,206.0 L83.0,205.8 L83.5,205.6 L84.0,205.5 L84.5,205.5 L85.0,205.6 L85.5,205.7 L86.0,205.8 L86.5,205.9 L87.0,205.9 L87.5,205.6 L88.0,205.1 L88.5,204.5 L89.0,203.9 L89.5,203.6 L90.0,203.3 L90.5,203.0 L91.0,202.7 L91.5,202.4 L92.0,202.2 L92.5,201.9 L93.0,201.7 L93.5,201.5 L94.0,201.2 L94.5,201.0 L95.0,200.8 L95.5,200.6 L96.0,200.4 L96.5,200.1 L97.0,199.9 L97.5,199.7 L98.0,199.5 L98.5,199.3 L99.0,199.1 L99.5,198.8 L100.0,198.6 L100.5,198.4 L101.0,198.3 L101.5,198.1 L102.0,197.9 L102.5,197.7 L103.0,197.5 L103.5,197.3 L104.0,197.2 L104.5,197.0 L105.0,196.8 L105.5,196.7 L106.0,196.5 L106.5,196.4 L107.0,196.2 L107.5,196.0 L108.0,195.9 L108.5,195.7 L109.0,195.6 L109.5,195.4 L110.0,195.2 L110.5,195.1 L111.0,194.9 L111.5,194.8 L112.0,194.6 L112.5,194.5 L113.0,194.3 L113.5,194.2 L114.0,194.0 L114.5,193.8 L115.0,193.7 L115.5,193.5 L116.0,193.4 L116.5,193.2 L116.6,193.2"/>
<path d="M128.6,190.7 L129.1,190.6 L129.6,190.6 L130.1,190.5 L130.6,190.5 L131.1,190.4 L131.6,190.3 L132.1,190.3 L132.6,190.2 L133.1,190.2 L133.6,190.1 L134.1,190.1 L134.6,190.0 L135.1,190.0 L135.6,190.0 L136.1,189.9 L136.6,189.9 L137.1,189.9 L137.6,189.8 L138.1,189.8 L138.6,189.8 L139.1,189.8 L139.6,189.7 L140.1,189.7 L140.6,189.7 L141.1,189.6 L141.6,189.6 L142.1,189.6 L142.6,189.5 L143.1,189.5 L143.6,189.4 L144.1,189.4 L144.6,189.4 L145.1,189.3 L145.2,190.0 L145.3,189.3 L145.6,189.3 L146.1,189.2 L146.6,189.2 L146.7,189.7 L146.8,189.2 L147.1,189.2 L147.6,189.1 L148.1,189.1 L148.2,189.9 L148.3,189.1 L148.6,189.0 L149.1,189.0 L149.6,188.9 L150.1,188.9 L150.2,189.4 L150.3,188.9 L150.6,188.9 L151.1,188.8 L151.2,190.0 L151.3,188.8 L151.6,188.8 L152.1,188.7 L152.2,190.3 L152.3,188.7 L152.6,188.7 L153.1,188.6 L153.6,188.6 L154.1,188.5 L154.2,189.6 L154.3,188.5 L154.6,188.4 L154.7,190.2 L154.8,188.4 L155.1,188.4 L155.2,189.5 L155.3,188.4 L155.6,188.3 L156.1,188.2 L156.6,188.2 L157.1,188.1 L157.6,188.0 L158.1,188.0 L158.6,187.9 L159.1,187.9 L159.2,188.9 L159.3,187.9 L159.6,187.8 L159.7,188.8 L159.8,187.8 L160.1,187.8 L160.6,187.8 L161.1,187.7 L161.6,187.7 L162.1,187.7 L162.2,188.2 L162.3,187.7 L162.6,187.7 L162.7,189.4 L162.8,187.7 L163.1,187.7 L163.6,187.7 L163.7,189.4 L163.8,187.7 L164.1,187.8 L164.6,187.8 L165.1,187.9 L165.6,187.9 L166.1,188.0 L166.2,189.5 L166.3,188.0 L166.6,188.1 L166.7,189.3 L166.8,188.1 L167.1,188.2 L167.6,188.3 L168.1,188.4 L168.2,190.3 L168.3,188.4 L168.6,188.5 L169.1,188.6 L169.6,188.7 L169.7,189.9 L169.8,188.7 L170.1,188.8 L170.2,190.3 L170.3,188.8 L170.6,189.0 L171.1,189.1 L171.6,189.3 L172.1,189.5 L172.6,189.8 L172.7,191.2 L172.8,189.8 L173.1,190.0 L173.6,190.2 L174.1,190.4 L174.2,192.2 L174.3,190.4 L174.6,190.6 L175.1,190.8 L175.6,191.0 L176.1,191.1 L176.6,191.2 L177.1,191.4 L177.6,191.5 L177.7,193.2 L177.8,191.5 L178.1,191.6 L178.6,191.8 L179.1,191.9 L179.6,191.9 L180.1,192.0 L180.6,192.0 L180.7,193.6 L180.8,192.0 L181.1,191.9 L181.6,191.7 L182.1,191.5 L182.2,192.9 L182.3,191.5 L182.6,191.1 L183.1,190.7 L183.6,190.3 L184.1,190.0 L184.2,190.6 L184.3,190.0 L184.6,189.6 L184.7,191.0 L184.8,189.6 L185.1,189.3 L185.2,190.8 L185.3,189.3 L185.6,189.0 L186.1,188.7 L186.2,189.9 L186.3,188.7 L186.6,188.4 L186.7,188.9 L186.8,188.4 L187.1,188.1 L187.2,189.0 L187.3,188.1 L187.5,197.5 L187.6,187.9 L187.6,187.9 L187.7,188.6 L187.8,187.9 L188.1,187.7 L188.2,188.9 L188.3,187.7 L188.6,187.7 L188.7,189.1 L188.8,187.7 L189.1,187.9 L189.6,188.3 L189.7,190.1 L189.8,188.3 L190.1,188.7 L190.2,189.8 L190.3,188.7 L190.6,189.2 L190.7,190.3 L190.8,189.2 L191.1,189.7 L191.2,191.4 L191.3,189.7 L191.6,190.3 L191.7,190.8 L191.8,190.3 L192.1,191.0 L192.6,191.6 L192.7,192.9 L192.8,191.6 L193.1,192.2 L193.2,193.5 L193.3,192.2 L193.5,196.5 L193.6,192.5 L193.6,192.6 L194.1,192.7 L194.6,192.7 L194.7,194.4 L194.8,192.7 L195.1,192.6 L195.6,192.5 L195.7,197.2 L195.8,192.5 L195.7,193.2 L195.8,192.5 L196.1,192.4 L196.6,192.3 L197.1,192.1 L197.6,192.0 L198.1,191.7 L198.6,191.3 L198.7,193.1 L198.8,191.3 L199.1,190.8 L199.2,191.4 L199.3,190.8 L199.6,190.3 L200.1,189.9 L200.6,189.5 L200.7,190.9 L200.8,189.5 L201.1,189.2 L201.6,189.0 L201.7,190.0 L201.8,189.0 L202.1,188.7 L202.2,189.6 L202.3,188.7 L202.6,188.5 L203.1,188.3 L203.2,190.2 L203.3,188.3 L203.6,188.2 L204.1,188.1 L204.6,188.2 L204.7,190.1 L204.8,188.2 L205.1,188.4 L205.6,188.9 L205.7,189.8 L205.8,188.9 L206.1,189.4 L206.6,189.9 L207.1,190.3 L207.2,191.4 L207.3,190.3 L207.6,190.4 L207.6,194.6 L207.7,190.4 L207.7,191.8 L207.8,190.4 L208.1,190.3 L208.2,191.2 L208.3,190.3 L208.6,190.2 L209.1,189.9 L209.6,189.6 L209.7,190.9 L209.8,189.6 L210.1,189.3 L210.2,191.2 L210.3,189.3 L210.6,189.1 L211.1,188.9 L211.2,189.7 L211.3,188.9 L211.6,188.7 L211.7,190.6 L211.8,188.7 L212.1,188.5 L212.2,189.8 L212.3,188.5 L212.6,188.3 L213.1,188.3 L213.6,188.3 L214.1,188.3 L214.6,188.3 L214.7,189.9 L214.8,188.3 L215.1,188.3 L215.2,189.6 L215.3,188.3 L215.6,188.3 L215.7,189.2 L215.8,188.3 L216.1,188.3 L216.2,194.0 L216.3,188.3 L216.6,188.4 L217.1,188.7 L217.2,190.3 L217.3,188.7 L217.6,189.1 L218.1,189.5 L218.2,190.3 L218.3,189.5 L218.6,190.0 L219.1,190.6 L219.6,191.3 L220.1,192.1 L220.6,192.9 L220.7,194.5 L220.8,192.9 L221.1,193.7 L221.2,195.0 L221.3,193.7 L221.6,194.4 L222.1,195.1 L222.6,195.9 L223.1,196.7 L223.6,197.5 L223.7,198.5 L223.8,197.5 L224.1,198.3 L224.6,199.1 L224.7,200.0 L224.8,199.1 L225.1,200.0 L225.6,201.1 L226.1,202.4 L226.6,204.1 L227.1,206.3 L227.6,208.7 L228.1,211.1 L228.6,213.6 L229.1,216.3 L229.6,219.2 L230.1,223.0 L230.6,227.4 L231.1,229.6 L231.6,228.0 L232.1,224.5 L232.6,221.0 L233.1,217.0 L233.6,212.9 L234.1,209.5 L234.6,206.5 L235.1,203.8 L235.6,201.6 L236.1,199.7 L236.6,198.1 L237.1,196.6 L237.6,195.3 L238.1,194.2 L238.6,193.5 L239.1,192.9 L239.6,192.3 L240.1,191.9 L240.6,191.5 L241.1,191.1 L241.6,190.8 L242.1,190.4 L242.6,190.1 L243.1,189.7 L243.6,189.3 L244.1,189.0 L244.6,188.6 L245.1,188.3 L245.6,188.0 L246.1,187.6 L246.6,187.3 L247.1,187.0 L247.6,186.7 L248.1,186.5 L248.6,186.2 L249.1,185.9 L249.6,185.6 L250.1,185.4 L250.6,185.2 L251.1,184.9 L251.6,184.7 L252.1,184.4 L252.6,184.2 L253.1,183.9 L253.6,183.7 L254.1,183.5 L254.6,183.3 L255.1,183.1 L255.6,182.9 L256.1,182.7 L256.6,182.5 L257.1,182.3 L257.6,182.2 L258.1,182.0 L258.6,181.9 L259.1,181.8 L259.6,181.7 L260.1,181.6 L260.6,181.6 L261.1,181.5 L261.6,181.4 L262.1,181.4 L262.6,181.3 L263.1,181.3 L263.6,181.2 L264.1,181.2 L264.6,181.1 L265.1,181.0 L265.6,181.0 L266.1,180.9 L266.6,180.8 L267.1,180.7 L267.6,180.6 L268.1,180.4 L268.6,180.2 L269.1,180.0 L269.6,179.9 L270.1,179.7 L270.6,179.5 L271.1,179.3 L271.6,179.1 L272.1,179.0 L272.6,178.9 L273.1,178.7 L273.6,178.6 L274.1,178.4 L274.6,178.3 L275.1,178.2 L275.6,178.1 L276.1,178.0 L276.6,177.9 L277.1,177.8 L277.6,177.8 L278.1,177.8 L278.6,177.9 L279.1,178.0 L279.6,178.1 L280.1,178.2 L280.6,178.3 L281.1,178.5 L281.6,178.6 L282.1,178.7 L282.6,178.8 L283.1,178.8 L283.6,178.8 L284.1,178.8 L284.6,178.7 L285.1,178.6 L285.6,178.5 L286.1,178.4 L286.6,178.3 L287.1,178.2 L287.6,178.1 L288.1,178.0 L288.6,178.0 L289.1,178.0 L289.6,178.0 L290.1,178.1 L290.6,178.1 L291.1,178.2 L291.6,178.3 L292.1,178.4 L292.6,178.5 L293.1,178.6 L293.6,178.7 L294.1,178.8 L294.6,178.9 L295.1,179.0 L295.6,179.2 L296.1,179.3 L296.6,179.4 L297.1,179.5 L297.6,179.7 L298.1,179.8 L298.6,179.9 L299.1,180.1 L299.6,180.2 L300.1,180.3 L300.6,180.5 L301.1,180.6 L301.6,180.7 L302.1,180.9 L302.6,181.0 L303.1,181.2 L303.6,181.3 L304.1,181.4 L304.6,181.5 L305.1,181.6 L305.6,181.7 L306.1,181.8 L306.6,181.8 L307.1,181.9 L307.6,181.9 L308.1,182.0 L308.6,182.0 L309.1,182.1 L309.6,182.1 L310.1,182.2 L310.6,182.3 L311.1,182.3 L311.6,182.4 L312.1,182.5 L312.6,182.7 L313.1,182.8 L313.6,182.9 L314.1,183.0 L314.6,183.2 L315.1,183.3 L315.6,183.4 L316.1,183.5 L316.6,183.7 L317.1,183.8 L317.6,183.9 L318.1,184.0 L318.6,184.1 L319.1,184.2 L319.6,184.3 L320.1,184.4 L320.6,184.5 L321.1,184.6 L321.6,184.6 L322.1,184.7 L322.6,184.8 L323.1,184.9 L323.6,185.0 L324.1,185.0 L324.6,185.1 L325.1,185.2 L325.6,185.2 L326.1,185.3 L326.6,185.3 L327.1,185.4 L327.6,185.4 L328.1,185.5 L328.6,185.5 L329.1,185.6 L329.6,185.6 L330.1,185.7 L330.6,185.7 L331.1,185.8 L331.6,185.8 L332.1,185.9 L332.6,185.9 L333.1,185.9 L333.6,186.0 L334.1,186.0 L334.6,186.1 L335.1,186.1 L335.6,186.2 L336.1,186.2 L336.2,191.5 L336.3,186.2 L336.6,186.2 L337.1,186.3 L337.6,186.3 L338.1,186.3 L338.6,186.4 L339.1,186.4 L339.6,186.5 L340.1,186.5 L340.6,186.5 L341.1,186.6 L341.6,186.6 L342.1,186.6 L342.6,186.7 L343.1,186.7 L343.6,186.7 L344.1,186.8 L344.6,186.8 L345.1,187.4 L345.6,186.2 L346.1,187.4 L346.6,187.2 L347.1,186.8 L347.6,186.5 L348.1,187.3 L348.6,187.5 L349.1,186.2 L349.6,186.7 L350.1,186.8 L350.6,186.7 L351.1,186.4 L351.6,186.1 L352.1,186.7 L352.6,187.0 L353.1,185.8 L353.6,186.0 L354.1,187.4 L354.6,187.2 L355.1,186.7 L355.6,184.5 L356.1,186.6 L356.6,187.3 L357.1,187.2 L357.6,186.1 L358.1,183.9 L358.6,186.3 L359.1,184.2 L359.6,185.5 L360.1,186.4 L360.6,185.5 L361.1,183.7 L361.6,184.1 L362.1,186.2 L362.6,183.8 L363.1,185.4 L363.6,184.9 L364.1,184.2 L364.6,185.8 L365.1,184.1 L365.6,184.4 L366.1,185.4 L366.6,184.6 L367.1,184.7 L367.6,186.5 L368.1,187.1 L368.6,187.7 L369.1,185.4 L369.6,186.5 L370.1,186.2 L370.6,187.3 L371.1,187.1 L371.6,188.6 L371.6,192.6 L371.7,187.2 L372.1,187.0 L372.6,186.2 L373.1,188.5 L373.6,187.0 L374.1,188.3 L374.2,188.4"/>
<path d="M23.3,267.6 L23.6,277.6 L23.9,270.8 L24.2,274.5 L24.5,271.5 L24.8,274.2 L25.1,267.2 L25.4,278.4 L25.7,270.2 L26.0,279.0 L26.3,267.6 L26.6,278.8 L26.9,271.8 L27.2,278.6 L27.5,268.3 L27.8,278.7 L28.1,268.0 L28.4,275.2 L28.7,273.0 L29.0,278.4 L29.3,269.0 L29.6,277.9 L29.9,270.5 L30.2,278.6 L30.5,269.3 L30.8,278.3 L31.1,272.7 L31.4,277.9 L31.7,270.7 L32.0,275.1 L32.3,270.7 L32.6,278.6 L32.9,274.4 L33.2,277.9 L33.5,272.9 L33.8,274.8 L34.1,273.3 L34.4,277.0 L34.7,272.8 L35.0,276.8 L35.3,273.6 L35.6,275.6 L35.9,273.9 L36.2,276.0 L36.5,274.3 L36.8,276.9 L37.1,275.6 L37.4,277.0 L37.7,275.6 L38.0,276.7 L38.3,276.1 L38.6,276.7 L38.9,275.9 L39.2,276.7 L39.5,276.3 L40.0,277.9 L40.5,278.1 L41.0,278.3 L41.5,278.5 L42.0,278.7 L42.5,278.8 L43.0,278.9 L43.5,279.0 L44.0,279.0 L44.5,279.1 L45.0,279.1 L45.5,279.1 L46.0,279.0 L46.5,279.0 L47.0,278.9 L47.5,278.7 L48.0,278.6 L48.5,278.5 L49.0,278.3 L49.5,278.2 L50.0,278.1 L50.5,278.0 L51.0,277.9 L51.5,277.8 L52.0,277.7 L52.5,277.6 L53.0,277.5 L53.5,277.4 L54.0,277.2 L54.5,277.1 L55.0,276.9 L55.5,276.8 L56.0,276.6 L56.5,276.4 L57.0,276.2 L57.5,276.0 L58.0,275.8 L58.5,275.6 L59.0,275.3 L59.5,275.1 L60.0,274.9 L60.5,274.7 L61.0,274.4 L61.5,274.2 L62.0,274.0 L62.5,273.8 L63.0,273.5 L63.5,273.3 L64.0,273.1 L64.5,272.9 L65.0,272.6 L65.5,272.4 L66.0,272.2 L66.5,272.0 L67.0,271.7 L67.5,271.5 L68.0,271.3 L68.5,271.1 L69.0,270.8 L69.5,270.6 L70.0,270.4 L70.5,270.2 L71.0,269.9 L71.5,269.7 L72.0,269.5 L72.5,269.3 L73.0,269.0 L73.5,268.8 L74.0,268.6 L74.5,268.3 L75.0,268.1 L75.5,267.9 L76.0,267.7 L76.5,267.4 L77.0,267.2 L77.5,267.0 L78.0,266.8 L78.5,266.6 L79.0,266.3 L79.5,266.1 L80.0,265.9 L80.5,265.7 L81.0,265.4 L81.5,265.2 L82.0,265.0 L82.5,264.7 L83.0,264.5 L83.5,264.3 L84.0,264.1 L84.5,263.9 L85.0,263.7 L85.5,263.5 L86.0,263.3 L86.5,263.1 L87.0,263.0 L87.5,262.8 L88.0,262.6 L88.5,262.5 L89.0,262.3 L89.5,262.2 L90.0,262.0 L90.5,261.9 L91.0,261.7 L91.5,261.6 L92.0,261.5 L92.5,261.3 L93.0,261.2 L93.5,261.0 L94.0,260.9 L94.5,260.7 L95.0,260.6 L95.5,260.5 L96.0,260.3 L96.5,260.2 L97.0,260.0 L97.5,259.9 L98.0,259.8 L98.5,259.6 L99.0,259.5 L99.5,259.3 L100.0,259.2 L100.5,259.1 L101.0,258.9 L101.5,258.8 L102.0,258.7 L102.5,258.5 L103.0,258.4 L103.5,258.2 L104.0,258.1 L104.5,258.0 L105.0,257.8 L105.5,257.7 L106.0,257.6 L106.5,257.4 L107.0,257.3 L107.5,257.2 L108.0,257.0 L108.5,256.9 L109.0,256.8 L109.5,256.7 L110.0,256.5 L110.5,256.4 L111.0,256.3 L111.5,256.2 L112.0,256.1 L112.5,256.0 L113.0,255.9 L113.5,255.8 L114.0,255.7 L114.5,255.6 L115.0,255.5 L115.5,255.4 L116.0,255.3 L116.5,255.2 L116.6,255.2"/>
<path d="M128.6,252.8 L129.1,252.7 L129.6,252.7 L130.1,252.6 L130.6,252.6 L131.1,252.5 L131.6,252.4 L132.1,252.4 L132.6,252.3 L133.1,252.3 L133.6,252.2 L134.1,252.1 L134.6,252.1 L135.1,252.0 L135.6,251.9 L136.1,251.9 L136.6,251.8 L137.1,251.7 L137.6,251.6 L138.1,251.6 L138.6,251.5 L139.1,251.4 L139.6,251.3 L140.1,251.3 L140.2,252.6 L140.3,251.3 L140.6,251.2 L141.1,251.1 L141.2,253.3 L141.3,251.1 L141.6,251.0 L142.1,250.9 L142.6,250.9 L142.7,252.9 L142.8,250.9 L143.1,250.8 L143.2,252.3 L143.3,250.8 L143.6,250.7 L143.7,253.2 L143.8,250.7 L144.1,250.6 L144.6,250.5 L144.7,251.2 L144.8,250.5 L145.1,250.5 L145.2,251.2 L145.3,250.5 L145.6,250.4 L145.7,252.9 L145.8,250.4 L146.1,250.3 L146.2,252.7 L146.3,250.3 L146.6,250.3 L146.7,253.1 L146.8,250.3 L147.1,250.2 L147.6,250.1 L147.7,251.2 L147.8,250.1 L148.1,250.1 L148.6,250.0 L149.1,250.0 L149.2,252.4 L149.3,250.0 L149.6,249.9 L150.1,249.8 L150.2,251.6 L150.3,249.8 L150.6,249.8 L150.7,251.2 L150.8,249.8 L151.1,249.7 L151.2,251.8 L151.3,249.7 L151.6,249.7 L152.1,249.6 L152.2,251.7 L152.3,249.6 L152.6,249.6 L152.7,250.4 L152.8,249.6 L153.1,249.5 L153.6,249.4 L153.7,252.2 L153.8,249.4 L154.1,249.4 L154.6,249.3 L155.1,249.3 L155.2,251.9 L155.3,249.3 L155.6,249.3 L155.7,251.3 L155.8,249.3 L156.1,249.2 L156.6,249.2 L157.1,249.1 L157.6,249.1 L157.7,251.4 L157.8,249.1 L158.1,249.1 L158.6,249.0 L158.7,251.9 L158.8,249.0 L159.1,249.0 L159.6,249.0 L159.7,251.4 L159.8,249.0 L160.1,248.9 L160.2,250.2 L160.3,248.9 L160.6,248.9 L161.1,248.9 L161.2,251.4 L161.3,248.9 L161.6,248.8 L162.1,248.8 L162.2,251.7 L162.3,248.8 L162.6,248.8 L162.7,251.4 L162.8,248.8 L163.1,248.8 L163.2,251.7 L163.3,248.8 L163.6,248.7 L163.7,251.5 L163.8,248.7 L164.1,248.7 L164.2,249.5 L164.3,248.7 L164.6,248.7 L165.1,248.7 L165.6,248.6 L165.7,249.3 L165.8,248.6 L166.1,248.6 L166.2,250.1 L166.3,248.6 L166.6,248.6 L166.7,251.6 L166.8,248.6 L167.1,248.6 L167.6,248.6 L168.1,248.6 L168.6,248.6 L168.7,249.4 L168.8,248.6 L169.1,248.6 L169.6,248.6 L169.7,250.5 L169.8,248.6 L170.1,248.6 L170.2,250.4 L170.3,248.6 L170.6,248.7 L170.7,249.4 L170.8,248.7 L171.1,248.7 L171.2,249.4 L171.3,248.7 L171.6,248.7 L171.7,249.7 L171.8,248.7 L172.1,248.7 L172.2,249.7 L172.3,248.7 L172.6,248.8 L172.7,250.3 L172.8,248.8 L173.1,248.8 L173.2,249.9 L173.3,248.8 L173.6,248.8 L173.7,251.6 L173.8,248.8 L174.1,248.9 L174.2,249.9 L174.3,248.9 L174.6,248.9 L174.7,250.1 L174.8,248.9 L175.1,248.9 L175.2,253.1 L175.3,248.9 L175.6,249.0 L175.7,250.7 L175.8,249.0 L176.1,249.0 L176.2,251.5 L176.3,249.0 L176.6,249.0 L176.7,251.6 L176.8,249.0 L177.1,249.1 L177.6,249.1 L177.7,252.7 L177.8,249.1 L178.1,249.1 L178.6,249.1 L178.7,253.3 L178.8,249.1 L179.1,249.1 L179.2,252.8 L179.3,249.1 L179.6,249.1 L180.1,249.1 L180.2,252.6 L180.3,249.1 L180.6,249.1 L180.7,250.3 L180.8,249.1 L181.1,249.1 L181.2,253.1 L181.3,249.1 L181.6,249.1 L181.7,252.9 L181.8,249.1 L182.1,249.1 L182.2,251.6 L182.3,249.1 L182.6,249.1 L182.7,252.3 L182.8,249.1 L183.1,249.1 L183.6,249.1 L183.7,252.4 L183.8,249.1 L184.1,249.1 L184.6,249.1 L184.7,252.0 L184.8,249.1 L185.1,249.1 L185.6,249.1 L186.1,249.1 L186.2,252.7 L186.3,249.1 L186.6,249.1 L186.7,250.5 L186.8,249.1 L187.1,249.1 L187.6,249.1 L187.7,253.8 L187.8,249.1 L188.1,249.2 L188.2,264.5 L188.3,249.3 L188.6,249.4 L189.1,249.5 L189.6,249.7 L190.1,249.9 L190.2,255.4 L190.3,249.9 L190.6,250.1 L190.7,258.9 L190.8,250.1 L191.1,250.3 L191.6,250.5 L192.1,250.7 L192.2,261.3 L192.3,250.7 L192.2,257.4 L192.3,250.7 L192.6,250.9 L192.7,259.2 L192.8,250.9 L193.1,251.1 L193.6,251.4 L194.1,251.7 L194.6,252.0 L195.1,252.2 L195.6,252.4 L195.7,259.2 L195.8,252.4 L196.1,252.5 L196.2,259.0 L196.3,252.5 L196.2,257.4 L196.3,252.5 L196.6,252.5 L196.7,262.1 L196.8,252.5 L197.1,252.4 L197.2,261.8 L197.3,252.4 L197.6,252.3 L198.1,252.1 L198.2,260.8 L198.3,252.1 L198.6,251.9 L198.7,255.0 L198.8,251.9 L199.1,251.7 L199.2,254.2 L199.3,251.7 L199.6,251.5 L199.7,260.1 L199.8,251.5 L200.1,251.2 L200.2,258.0 L200.3,251.2 L200.6,251.0 L200.7,254.1 L200.8,251.0 L201.1,250.7 L201.2,254.1 L201.3,250.7 L201.6,250.3 L202.1,250.0 L202.2,256.7 L202.3,250.0 L202.6,249.7 L202.7,256.7 L202.8,249.7 L203.1,249.5 L203.2,253.6 L203.3,249.5 L203.6,249.3 L203.7,258.4 L203.8,249.3 L204.1,249.1 L204.2,254.6 L204.3,249.1 L204.6,248.9 L205.1,248.7 L205.2,258.3 L205.3,248.7 L205.6,248.6 L206.1,248.4 L206.2,251.4 L206.3,248.4 L206.6,248.3 L206.7,254.1 L206.8,248.3 L207.1,248.3 L207.6,248.2 L207.7,255.7 L207.8,248.2 L208.1,248.1 L208.6,248.1 L208.7,256.8 L208.8,248.1 L209.1,248.0 L209.6,248.0 L209.7,257.3 L209.8,248.0 L210.1,247.9 L210.6,247.9 L211.1,247.9 L211.2,251.9 L211.3,247.9 L211.6,247.8 L211.7,252.8 L211.8,247.8 L212.1,247.8 L212.6,247.8 L212.7,248.8 L212.8,247.8 L213.1,247.7 L213.2,249.0 L213.3,247.7 L213.6,247.7 L214.1,247.6 L214.6,247.6 L215.1,247.6 L215.2,250.1 L215.3,247.6 L215.6,247.5 L215.7,252.2 L215.8,247.5 L216.1,247.5 L216.6,247.4 L217.1,247.4 L217.6,247.3 L218.1,247.3 L218.6,247.2 L218.7,249.7 L218.8,247.2 L219.1,247.2 L219.6,247.1 L220.1,247.1 L220.6,247.0 L221.1,247.0 L221.6,246.9 L222.1,246.8 L222.2,248.4 L222.3,246.8 L222.6,246.8 L222.7,250.2 L222.8,246.8 L223.1,246.7 L223.6,246.7 L223.7,249.7 L223.8,246.7 L224.1,246.6 L224.2,250.4 L224.3,246.6 L224.6,246.6 L225.1,246.5 L225.2,251.4 L225.3,246.5 L225.6,246.5 L226.1,246.4 L226.2,248.8 L226.3,246.4 L226.6,246.4 L226.7,250.3 L226.8,246.4 L227.1,246.3 L227.6,246.3 L227.7,248.0 L227.8,246.3 L228.1,246.3 L228.6,246.2 L229.1,246.2 L229.6,246.1 L229.7,247.6 L229.8,246.1 L230.1,246.1 L230.6,246.1 L230.7,250.3 L230.8,246.1 L231.1,246.0 L231.6,246.0 L232.1,246.0 L232.6,245.9 L233.1,245.9 L233.6,245.9 L233.7,246.4 L233.8,245.9 L234.1,245.8 L234.6,245.8 L234.7,248.3 L234.8,245.8 L235.1,245.7 L235.6,245.7 L235.7,246.8 L235.8,245.7 L236.1,245.7 L236.6,245.6 L236.7,247.4 L236.8,245.6 L237.1,245.6 L237.2,247.8 L237.3,245.6 L237.6,245.6 L237.7,247.7 L237.8,245.6 L238.1,245.5 L238.2,247.4 L238.3,245.5 L238.6,245.5 L239.1,245.5 L239.6,245.4 L239.7,247.0 L239.8,245.4 L240.1,245.4 L240.6,245.3 L240.7,246.7 L240.8,245.3 L241.1,245.3 L241.2,247.8 L241.3,245.3 L241.6,245.3 L242.1,245.2 L242.6,245.2 L243.1,245.1 L243.2,245.9 L243.3,245.1 L243.6,245.1 L244.1,245.1 L244.6,245.0 L245.1,245.0 L245.6,244.9 L246.1,244.9 L246.2,246.5 L246.3,244.9 L246.6,244.8 L246.7,246.4 L246.8,244.8 L247.1,244.8 L247.6,244.8 L248.1,244.7 L248.6,244.7 L249.1,244.6 L249.2,246.6 L249.3,244.6 L249.6,244.6 L250.1,244.6 L250.6,244.5 L251.1,244.5 L251.6,244.4 L252.1,244.4 L252.6,244.3 L253.1,244.3 L253.6,244.2 L254.1,244.2 L254.6,244.2 L255.1,244.1 L255.6,244.1 L256.1,244.0 L256.6,244.0 L257.1,243.9 L257.6,243.9 L258.1,243.8 L258.6,243.8 L259.1,243.7 L259.6,243.7 L260.1,243.6 L260.6,243.6 L261.1,243.5 L261.6,243.5 L262.1,243.4 L262.6,243.4 L263.1,243.4 L263.6,243.3 L264.1,243.3 L264.6,243.2 L265.1,243.2 L265.6,243.1 L266.1,243.1 L266.6,243.0 L267.1,243.0 L267.6,242.9 L268.1,242.9 L268.6,242.8 L269.1,242.8 L269.6,242.8 L270.1,242.7 L270.6,242.7 L271.1,242.7 L271.6,242.7 L272.1,242.7 L272.6,242.7 L273.1,242.8 L273.6,242.9 L274.1,243.0 L274.6,243.1 L275.1,243.2 L275.6,243.3 L276.1,243.5 L276.6,243.6 L277.1,243.8 L277.6,243.9 L278.1,244.1 L278.6,244.2 L279.1,244.4 L279.6,244.5 L280.1,244.6 L280.6,244.8 L281.1,244.9 L281.6,245.0 L282.1,245.2 L282.6,245.3 L283.1,245.4 L283.6,245.6 L284.1,245.7 L284.6,245.8 L285.1,246.0 L285.6,246.1 L286.1,246.2 L286.6,246.3 L287.1,246.5 L287.6,246.6 L288.1,246.7 L288.6,246.7 L289.1,246.8 L289.6,246.9 L290.1,247.0 L290.6,247.1 L291.1,247.2 L291.6,247.3 L292.1,247.4 L292.6,247.6 L293.1,247.7 L293.6,247.9 L294.1,248.0 L294.6,248.2 L295.1,248.4 L295.6,248.6 L296.1,248.8 L296.6,249.0 L297.1,249.3 L297.6,249.6 L298.1,249.8 L298.6,250.2 L299.1,250.5 L299.6,250.9 L300.1,251.3 L300.6,251.7 L301.1,252.2 L301.6,252.6 L302.1,253.1 L302.6,253.6 L303.1,254.1 L303.6,254.6 L304.1,255.2 L304.6,255.8 L305.1,256.4 L305.6,257.0 L306.1,257.6 L306.6,258.3 L307.1,258.9 L307.6,259.5 L308.1,260.2 L308.6,260.8 L309.1,261.5 L309.6,262.2 L310.1,262.8 L310.6,263.5 L311.1,264.2 L311.6,264.9 L312.1,265.6 L312.6,266.4 L313.1,267.1 L313.6,267.9 L314.1,268.7 L314.6,269.4 L315.1,270.2 L315.6,271.0 L316.1,271.7 L316.6,272.4 L317.1,273.1 L317.6,273.8 L318.1,274.5 L318.6,275.2 L319.1,275.9 L319.6,276.5 L320.1,277.1 L320.6,277.7 L321.1,278.2 L321.6,278.7 L322.1,279.1 L322.6,279.6 L323.1,280.0 L323.6,280.4 L324.1,280.8 L324.6,281.1 L325.1,281.5 L325.6,281.7 L326.1,282.0 L326.6,282.2 L327.1,282.3 L327.6,282.5 L328.1,282.6 L328.6,282.8 L329.1,282.9 L329.6,283.1 L330.1,283.2 L330.6,283.3 L331.1,283.4 L331.6,283.5 L332.1,283.5 L332.6,283.6 L333.1,283.7 L333.6,283.8 L334.1,283.8 L334.6,283.9 L335.1,284.0 L335.6,284.0 L336.1,284.1 L336.2,287.3 L336.3,284.1 L336.6,284.1 L337.1,284.1 L337.6,284.1 L338.1,284.1 L338.6,284.0 L339.1,284.0 L339.6,283.9 L340.1,283.8 L340.6,283.7 L341.1,283.6 L341.6,283.5 L342.1,283.4 L342.6,283.3 L343.1,283.2 L343.6,283.1 L344.1,283.0 L344.6,282.9 L345.1,282.9 L345.6,282.8 L346.1,282.7 L346.6,282.6 L347.1,282.5 L347.6,282.4 L348.1,282.3 L348.6,282.2 L349.1,282.2 L349.6,282.1 L350.1,282.0 L350.6,281.9 L351.1,281.8 L351.6,281.8 L352.1,281.7 L352.6,281.6 L353.1,281.6 L353.6,281.5 L354.1,281.4 L354.6,281.3 L355.1,281.2 L355.6,281.1 L356.1,281.0 L356.6,280.9 L357.1,280.7 L357.6,280.5 L358.1,280.2 L358.6,280.0 L359.1,279.9 L359.6,279.8 L360.1,279.7 L360.6,279.7 L361.1,279.9 L361.6,280.1 L362.1,280.4 L362.6,280.7 L363.1,281.2 L363.6,281.8 L364.1,282.9 L364.6,281.8 L365.1,285.1 L365.6,284.5 L366.1,285.1 L366.6,284.6 L367.1,284.7 L367.6,285.1 L368.1,286.1 L368.6,286.8 L369.1,286.7 L369.6,286.7 L370.1,289.0 L370.6,289.2 L371.1,290.1 L371.6,288.5 L372.0,293.5 L372.1,289.7 L372.1,290.5 L372.6,290.7 L373.1,290.0 L373.5,293.0"/>
<path d="M23.3,327.5 L23.6,330.6 L23.9,327.6 L24.2,329.9 L24.5,328.3 L24.8,330.7 L25.1,329.1 L25.4,330.7 L25.7,328.3 L26.0,331.1 L26.3,328.5 L26.6,331.3 L26.9,329.2 L27.2,330.6 L27.5,330.1 L27.8,331.6 L28.1,330.0 L28.4,331.7 L28.7,330.5 L29.0,331.6 L29.3,331.0 L29.6,332.0 L29.9,331.5 L30.2,332.1 L30.5,331.5 L30.8,332.3 L31.1,331.9 L31.4,332.2 L32.0,332.9 L32.5,333.1 L33.0,333.4 L33.5,333.7 L34.0,334.2 L34.5,334.8 L35.0,335.4 L35.5,336.4 L36.0,337.7 L36.5,339.3 L37.0,341.2 L37.5,343.6 L38.0,345.9 L38.5,347.9 L39.0,349.8 L39.5,351.2 L40.0,352.4 L40.5,353.2 L41.0,353.3 L41.5,352.3 L42.0,350.9 L42.5,349.8 L43.0,348.6 L43.5,347.5 L44.0,346.7 L44.5,346.1 L45.0,345.7 L45.5,345.5 L46.0,346.0 L46.5,347.0 L47.0,348.0 L47.5,349.1 L48.0,350.2 L48.5,350.6 L49.0,349.8 L49.5,348.5 L50.0,347.3 L50.5,346.1 L51.0,344.9 L51.5,344.1 L52.0,343.4 L52.5,342.9 L53.0,342.4 L53.5,342.1 L54.0,341.9 L54.5,341.8 L55.0,341.6 L55.5,341.5 L56.0,341.3 L56.5,341.1 L57.0,340.8 L57.5,340.5 L58.0,340.1 L58.5,339.7 L59.0,339.2 L59.5,338.4 L60.0,337.6 L60.5,336.8 L61.0,335.9 L61.5,335.2 L62.0,334.5 L62.5,333.8 L63.0,333.1 L63.5,332.4 L64.0,331.8 L64.5,331.2 L65.0,330.6 L65.5,330.1 L66.0,329.6 L66.5,329.1 L67.0,328.6 L67.5,328.1 L68.0,327.6 L68.5,327.1 L69.0,326.7 L69.5,326.2 L70.0,325.8 L70.5,325.4 L71.0,325.0 L71.5,324.7 L72.0,324.5 L72.5,324.2 L73.0,324.0 L73.5,323.8 L74.0,323.5 L74.5,323.3 L75.0,323.1 L75.5,322.9 L76.0,322.6 L76.5,322.3 L77.0,322.1 L77.5,321.8 L78.0,321.6 L78.5,321.4 L79.0,321.2 L79.5,321.1 L80.0,321.0 L80.5,320.9 L81.0,320.8 L81.5,320.7 L82.0,320.6 L82.5,320.6 L83.0,320.5 L83.5,320.5 L84.0,320.5 L84.5,320.7 L85.0,320.9 L85.5,321.1 L86.0,321.3 L86.5,321.5 L87.0,321.5 L87.5,321.4 L88.0,321.3 L88.5,321.1 L89.0,320.9 L89.5,320.7 L90.0,320.5 L90.5,320.3 L91.0,320.1 L91.5,319.8 L92.0,319.5 L92.5,319.3 L93.0,319.0 L93.5,318.7 L94.0,318.5 L94.5,318.2 L95.0,317.9 L95.5,317.7 L96.0,317.5 L96.5,317.2 L97.0,317.0 L97.5,316.7 L98.0,316.5 L98.5,316.2 L99.0,316.0 L99.5,315.7 L100.0,315.4 L100.5,315.1 L101.0,314.8 L101.5,314.4 L102.0,314.1 L102.5,313.7 L103.0,313.3 L103.5,313.0 L104.0,312.6 L104.5,312.2 L105.0,311.9 L105.5,311.5 L106.0,311.2 L106.5,310.9 L107.0,310.6 L107.5,310.3 L108.0,310.1 L108.5,309.8 L109.0,309.6 L109.5,309.4 L110.0,309.1 L110.5,308.9 L111.0,308.7 L111.5,308.5 L112.0,308.3 L112.5,308.1 L113.0,307.9 L113.5,307.8 L114.0,307.6 L114.5,307.4 L115.0,307.3 L115.5,307.2 L116.0,307.0 L116.2,307.0"/>
<path d="M128.5,304.8 L129.0,304.7 L129.5,304.6 L130.0,304.4 L130.5,304.3 L131.0,304.2 L131.5,304.1 L132.0,304.0 L132.5,303.9 L133.0,303.8 L133.5,303.7 L134.0,303.6 L134.5,303.6 L135.0,303.5 L135.5,303.5 L136.0,303.5 L136.5,303.5 L137.0,303.5 L137.5,303.6 L138.0,303.6 L138.5,303.6 L139.0,303.6 L139.5,303.7 L140.0,303.7 L140.5,303.7 L141.0,303.8 L141.5,303.8 L142.0,303.9 L142.5,303.9 L143.0,303.9 L143.5,304.0 L144.0,304.0 L144.5,304.1 L145.0,304.1 L145.5,304.1 L146.0,304.2 L146.5,304.2 L147.0,304.3 L147.5,304.3 L148.0,304.4 L148.5,304.4 L149.0,304.4 L149.5,304.5 L150.0,304.5 L150.5,304.6 L151.0,304.6 L151.5,304.7 L152.0,304.7 L152.5,304.8 L153.0,304.9 L153.5,304.9 L154.0,305.0 L154.5,305.0 L155.0,305.1 L155.5,305.1 L156.0,305.2 L156.5,305.2 L157.0,305.3 L157.5,305.4 L158.0,305.4 L158.5,305.5 L159.0,305.6 L159.5,305.6 L160.0,305.7 L160.5,305.7 L161.0,305.8 L161.5,305.9 L162.0,305.9 L162.5,306.0 L163.0,306.0 L163.5,306.1 L164.0,306.1 L164.5,306.1 L165.0,306.2 L165.5,306.2 L166.0,306.2 L166.5,306.3 L167.0,306.3 L167.5,306.4 L168.0,306.4 L168.5,306.4 L169.0,306.5 L169.5,306.5 L170.0,306.6 L170.5,306.7 L171.0,306.7 L171.5,306.8 L172.0,306.9 L172.5,307.0 L173.0,307.1 L173.5,307.2 L174.0,307.3 L174.5,307.5 L175.0,307.6 L175.5,307.8 L176.0,308.0 L176.5,308.2 L177.0,308.4 L177.5,308.6 L178.0,308.9 L178.5,309.1 L179.0,309.4 L179.5,309.6 L180.0,309.9 L180.5,310.3 L181.0,310.6 L181.5,311.0 L182.0,311.5 L182.5,311.9 L183.0,312.5 L183.5,313.1 L184.0,313.8 L184.5,314.6 L185.0,315.5 L185.5,316.5 L186.0,317.8 L186.5,319.4 L187.0,321.5 L187.5,324.6 L188.0,328.2 L188.5,332.8 L189.0,337.9 L189.5,342.6 L190.0,347.1 L190.5,350.1 L191.0,352.3 L191.5,352.3 L192.0,350.8 L192.5,348.8 L193.0,346.9 L193.5,344.7 L194.0,342.7 L194.5,342.0 L195.0,342.0 L195.5,342.0 L196.0,342.1 L196.5,343.8 L197.0,346.5 L197.5,348.4 L198.0,350.4 L198.5,351.5 L199.0,351.1 L199.5,349.9 L200.0,348.6 L200.5,347.7 L201.0,346.8 L201.5,345.9 L202.0,344.9 L202.5,343.4 L203.0,341.2 L203.5,338.4 L204.0,335.6 L204.5,332.8 L205.0,329.9 L205.5,327.1 L206.0,324.5 L206.5,322.1 L207.0,319.8 L207.5,317.7 L208.0,316.0 L208.5,314.9 L209.0,314.0 L209.5,313.2 L210.0,312.6 L210.5,312.1 L211.0,311.6 L211.5,311.2 L212.0,310.9 L212.5,310.8 L213.0,310.8 L213.5,310.8 L214.0,310.9 L214.5,311.0 L215.0,311.1 L215.5,311.2 L216.0,311.5 L216.5,312.4 L217.0,313.6 L217.5,315.0 L218.0,316.3 L218.5,318.0 L219.0,319.9 L219.5,321.7 L220.0,323.2 L220.5,324.7 L221.0,326.2 L221.5,327.3 L222.0,327.8 L222.5,327.6 L223.0,327.0 L223.5,326.1 L224.0,325.2 L224.5,323.9 L225.0,322.0 L225.5,319.9 L226.0,318.1 L226.5,317.0 L227.0,316.1 L227.5,315.3 L228.0,314.6 L228.5,313.9 L229.0,313.4 L229.5,312.8 L230.0,312.3 L230.5,311.8 L231.0,311.3 L231.5,310.9 L232.0,310.5 L232.5,310.1 L233.0,309.7 L233.5,309.3 L234.0,308.9 L234.5,308.4 L235.0,308.0 L235.5,307.6 L236.0,307.2 L236.5,306.8 L237.0,306.4 L237.5,306.1 L238.0,305.8 L238.5,305.6 L239.0,305.4 L239.5,305.1 L240.0,304.9 L240.5,304.7 L241.0,304.6 L241.5,304.4 L242.0,304.2 L242.5,304.0 L243.0,303.9 L243.5,303.7 L244.0,303.5 L244.5,303.3 L245.0,303.1 L245.5,303.0 L246.0,302.8 L246.5,302.6 L247.0,302.5 L247.5,302.4 L248.0,302.3 L248.5,302.3 L249.0,302.3 L249.5,302.3 L250.0,302.3 L250.5,302.3 L251.0,302.3 L251.5,302.3 L252.0,302.4 L252.5,302.4 L253.0,302.4 L253.5,302.4 L254.0,302.4 L254.5,302.5 L255.0,302.6 L255.5,302.7 L256.0,302.8 L256.5,302.9 L257.0,303.1 L257.5,303.4 L258.0,303.8 L258.5,304.3 L259.0,304.8 L259.5,305.3 L260.0,305.9 L260.5,306.5 L261.0,307.3 L261.5,308.0 L262.0,308.8 L262.5,309.7 L263.0,310.6 L263.5,311.6 L264.0,312.4 L264.5,313.2 L265.0,314.0 L265.5,314.6 L266.0,314.6 L266.5,313.9 L267.0,312.6 L267.5,311.3 L268.0,310.3 L268.5,309.5 L269.0,308.6 L269.5,307.8 L270.0,307.2 L270.5,306.9 L271.0,306.7 L271.5,306.5 L272.0,306.4 L272.5,306.3 L273.0,306.2 L273.5,306.2 L274.0,306.2 L274.5,306.3 L275.0,306.3 L275.5,306.4 L276.0,306.5 L276.5,306.6 L277.0,306.6 L277.5,306.7 L278.0,306.8 L278.5,306.9 L279.0,307.0 L279.5,307.1 L280.0,307.1 L280.5,307.1 L281.0,307.0 L281.5,306.8 L282.0,306.6 L282.5,306.4 L283.0,306.3 L283.5,306.1 L284.0,305.9 L284.5,305.8 L285.0,305.6 L285.5,305.4 L286.0,305.2 L286.5,305.0 L287.0,304.8 L287.5,304.7 L288.0,304.5 L288.5,304.3 L289.0,304.1 L289.5,303.9 L290.0,303.8 L290.5,303.6 L291.0,303.4 L291.5,303.3 L292.0,303.1 L292.5,302.9 L293.0,302.8 L293.5,302.6 L294.0,302.5 L294.5,302.4 L295.0,302.4 L295.5,302.4 L296.0,302.5 L296.5,302.6 L297.0,302.7 L297.5,302.8 L298.0,303.0 L298.5,303.1 L299.0,303.3 L299.5,303.5 L300.0,303.7 L300.5,303.9 L301.0,304.1 L301.5,304.2 L302.0,304.2 L302.5,304.3 L303.0,304.3 L303.5,304.4 L304.0,304.4 L304.5,304.5 L305.0,304.7 L305.5,304.8 L306.0,305.0 L306.5,305.1 L307.0,305.2 L307.5,305.0 L308.0,304.5 L308.5,304.1 L309.0,304.1 L309.5,304.2 L310.0,304.4 L310.5,304.6 L311.0,304.8 L311.5,305.1 L312.0,305.3 L312.5,305.5 L313.0,305.8 L313.5,306.0 L314.0,306.3 L314.5,306.6 L315.0,306.9 L315.5,307.2 L316.0,307.6 L316.5,308.0 L317.0,308.4 L317.5,308.8 L318.0,309.2 L318.5,309.7 L319.0,310.1 L319.5,310.5 L320.0,310.1 L320.5,308.4 L321.0,307.3 L321.5,307.3 L322.0,307.4 L322.5,307.5 L323.0,307.6 L323.5,307.6 L324.0,307.6 L324.5,307.6 L325.0,307.5 L325.5,307.5 L326.0,307.4 L326.5,307.4 L327.0,307.3 L327.5,307.3 L328.0,307.3 L328.5,307.3 L329.0,307.3 L329.5,307.3 L330.0,307.3 L330.5,307.3 L331.0,307.3 L331.5,307.3 L332.0,307.3 L332.5,307.3 L333.0,307.3 L333.5,307.3 L334.0,307.2 L334.5,307.1 L335.0,307.1 L335.5,307.0 L336.0,307.0 L336.1,304.9 L336.2,307.0 L336.5,307.0 L337.0,307.1 L337.5,307.3 L338.0,307.5 L338.5,307.7 L339.0,308.0 L339.5,308.2 L340.0,307.9 L340.5,308.9 L341.0,309.4 L341.5,309.5 L342.0,310.2 L342.5,310.0 L343.0,311.0 L343.5,311.3 L344.0,311.9 L344.5,312.3 L345.0,313.3 L345.5,314.0 L346.0,314.0 L346.5,314.8 L347.0,314.8 L347.5,316.2 L348.0,316.7 L348.5,317.7 L349.0,318.1 L349.5,318.0 L350.0,318.7 L350.5,319.5 L351.0,319.3 L351.5,320.2 L352.0,320.3 L352.5,320.6 L353.0,320.9 L353.5,322.2 L354.0,321.8 L354.5,322.2 L355.0,322.6 L355.5,323.2 L356.0,322.3 L356.5,322.7 L357.0,322.9 L357.5,323.3 L358.0,323.2 L358.5,323.2 L359.0,322.5 L359.5,322.7 L360.0,322.6 L360.5,323.2 L361.0,323.2 L361.5,322.2 L362.0,322.0 L362.5,321.9 L363.0,321.7 L363.5,321.8 L364.0,321.6 L364.5,321.0 L365.0,320.4 L365.5,320.6 L366.0,320.2 L366.5,320.0 L367.0,320.0 L367.5,319.2 L368.0,318.5 L368.5,318.1 L369.0,317.7 L369.5,316.4 L370.0,316.8 L370.5,316.0 L371.0,315.4 L371.5,314.4 L372.0,312.8 L372.5,311.4 L373.0,309.6 L373.9,304.2 L374.2,299.0 L373.9,295.3"/>
</g>
<g stroke="#000" fill="none"><line x1="22" y1="0" x2="22" y2="355.7" stroke-width="1.42"/><line x1="21.3" y1="355" x2="377" y2="355" stroke-width="1.42"/><line x1="21.3" y1="0.65" x2="377" y2="0.65" stroke-width="1.35"/><line x1="376.2" y1="0" x2="376.2" y2="355.7" stroke-width="1.6"/></g>
<g stroke="#111" stroke-width="1.15"><line x1="73.6" y1="355" x2="73.6" y2="362"/><line x1="145.3" y1="355" x2="145.3" y2="362"/><line x1="216.9" y1="355" x2="216.9" y2="362"/><line x1="288.6" y1="355" x2="288.6" y2="362"/><line x1="360.4" y1="355" x2="360.4" y2="362"/></g>
<g font-family="Liberation Sans, Arial, sans-serif" font-size="16.5" fill="#000" text-anchor="middle">
<text x="75.2" y="379.8">3000</text>
<text x="144.3" y="379.8">2000</text>
<text x="217.7" y="379.8">1500</text>
<text x="291.0" y="379.8">1000</text>
<text x="359.5" y="379.8">500</text>
</g>
<g font-family="Liberation Sans, Arial, sans-serif" font-size="17" fill="#000" text-anchor="middle">
<text x="80.0" y="17.5">(a)</text>
<text x="79.9" y="55.5">(b)</text>
<text x="80.2" y="98.9">(c)</text>
<text x="81.7" y="144.0">(d)</text>
<text x="81.7" y="187.9">(e)</text>
<text x="80.0" y="248.5">(f)</text>
<text x="80.2" y="290.2">(g)</text>
</g>
<text x="126.2" y="401.6" font-family="Liberation Sans, Arial, sans-serif" font-size="16.5" textLength="141" lengthAdjust="spacingAndGlyphs">Wavenumber / cm</text>
<text x="265.6" y="392.7" font-family="Liberation Sans, Arial, sans-serif" font-size="10">-1</text>
<text transform="translate(12.9,254.4) rotate(-90)" font-family="Liberation Sans, Arial, sans-serif" font-size="16.5" textLength="167.2" lengthAdjust="spacingAndGlyphs">Transmittance (a. u.)</text>
</svg>
</body></html>
